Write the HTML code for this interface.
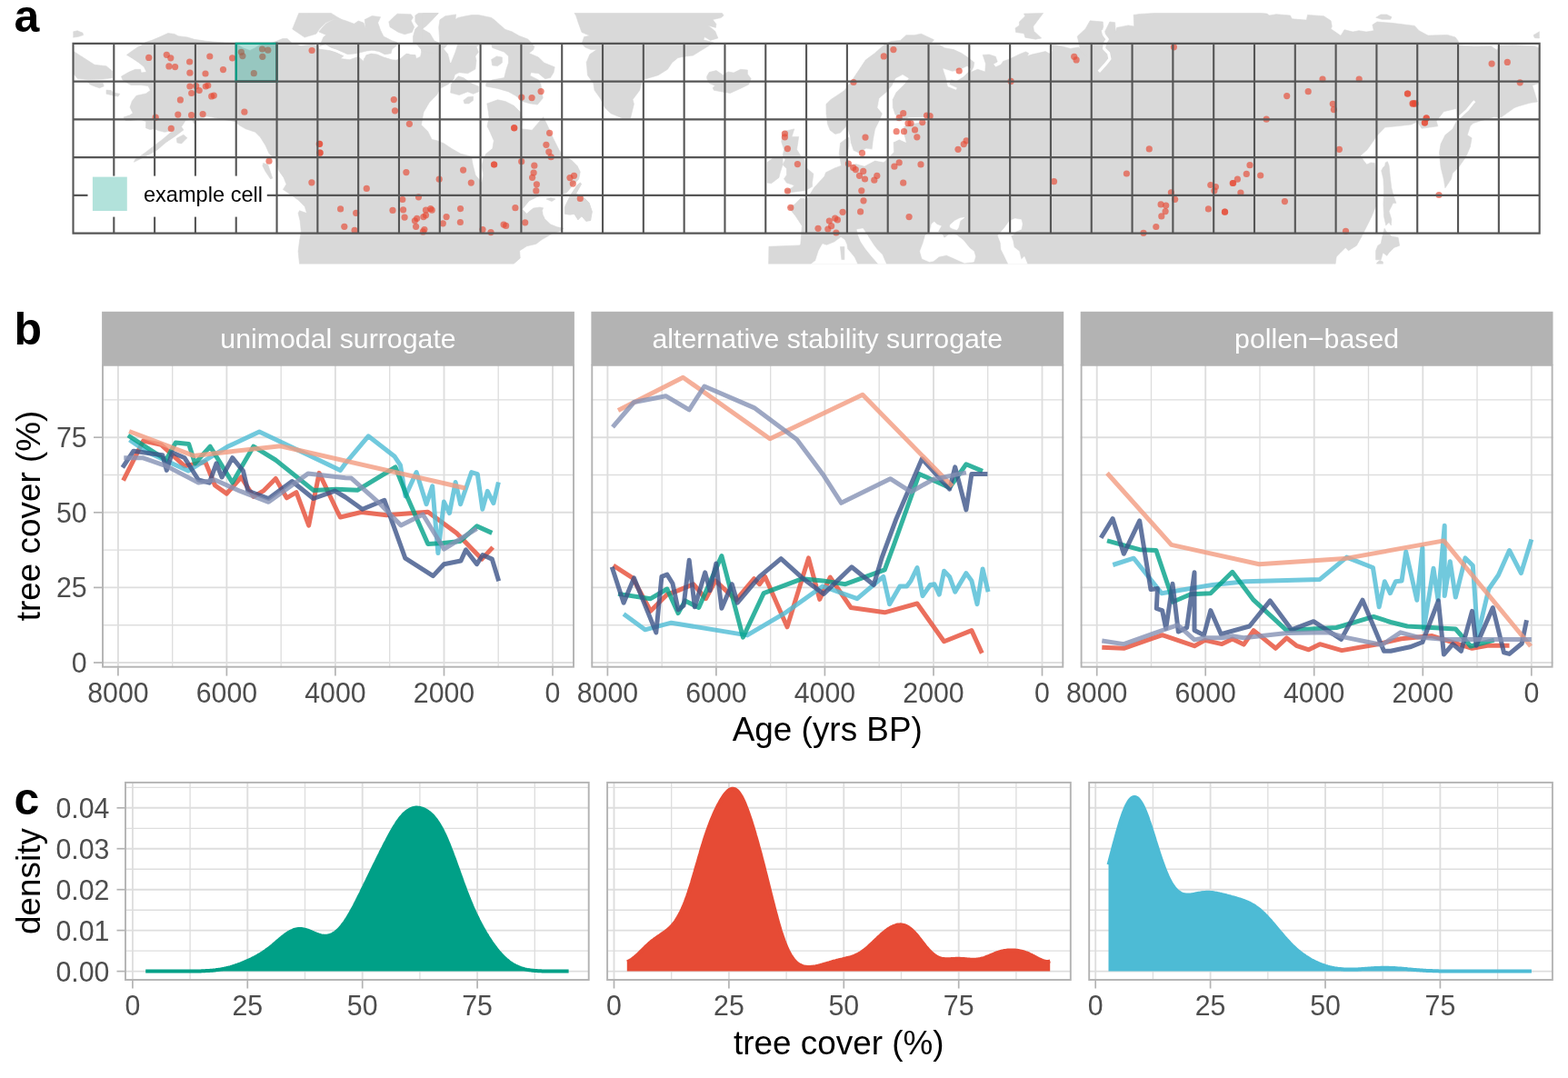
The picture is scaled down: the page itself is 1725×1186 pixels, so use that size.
<!DOCTYPE html>
<html><head><meta charset="utf-8"><title>Figure</title><style>
body{margin:0;padding:0;background:#fff;}
svg{display:block;}
text{font-family:"Liberation Sans",Arial,Helvetica,sans-serif;}
.ax{font-size:30.3px;fill:#4D4D4D;}
.st{font-size:30.3px;fill:#FFFFFF;}
.ti{font-size:36.9px;fill:#000000;}
.lb{font-size:50px;font-weight:bold;fill:#000000;}
.lg{font-size:23.6px;fill:#000000;}
</style></head>
<body><svg xmlns="http://www.w3.org/2000/svg" width="1725" height="1186" viewBox="0 0 1725 1186">
<rect x="0" y="0" width="1725" height="1186" fill="#FFFFFF"/>
<defs><clipPath id="mapclip"><rect x="80.5" y="14" width="1613.2" height="276.5"/></clipPath></defs>
<g clip-path="url(#mapclip)">
<g fill="#D9D9D9" stroke="#D9D9D9" stroke-width="0.6" stroke-linejoin="round">
<polygon points="79.8,35.0 85.1,33.8 91.0,36.2 91.6,38.6 86.3,40.3 79.8,41.3" fill="#D9D9D9"/>
<polygon points="80.5,56.5 81.7,56.9 104.0,71.3 117.0,72.7 123.5,78.2 123.5,85.7 113.3,87.1 96.6,87.5 85.4,86.6 81.7,81.9 80.5,81.9" fill="#D9D9D9"/>
<polygon points="96.6,90.3 113.3,91.2 114.2,94.9 109.5,96.8 104.0,94.9 99.3,93.1" fill="#D9D9D9"/>
<polygon points="117.0,99.1 122.5,99.6 124.4,101.9 131.8,103.3 130.0,106.1 124.4,105.1 117.0,103.3" fill="#D9D9D9"/>
<polygon points="139.4,60.4 144.1,56.9 151.2,52.1 155.9,49.8 159.5,46.8 167.7,44.1 176.0,40.6 184.8,36.6 191.9,37.4 196.1,39.7 206.1,40.9 213.8,43.3 226.8,45.3 243.3,46.8 255.0,47.5 262.0,49.5 268.0,53.0 275.0,55.5 280.0,53.0 285.0,50.0 292.0,48.3 300.0,47.0 311.0,42.5 316.0,42.5 321.0,47.3 330.6,50.6 343.6,49.0 350.1,50.6 351.3,54.1 364.1,55.8 369.9,57.5 378.0,61.6 374.5,64.5 384.9,65.7 394.2,62.2 400.0,67.4 401.2,61.0 408.1,58.7 415.1,59.9 422.0,62.8 431.3,65.7 435.9,66.2 440.6,64.5 444.6,61.0 447.5,58.7 456.8,59.9 458.0,64.5 462.6,62.2 463.8,56.4 464.9,50.0 470.0,46.0 477.0,45.0 484.6,48.0 530.0,48.0 524.0,51.3 526.4,57.2 522.9,61.9 524.0,66.7 522.9,76.1 514.6,80.8 505.1,79.7 500.4,82.0 499.2,86.7 493.3,92.6 483.9,97.4 480.8,104.0 472.5,112.4 466.0,123.5 465.0,128.7 463.5,137.4 470.8,144.7 475.1,153.4 480.9,154.8 488.2,157.7 496.9,163.5 507.0,169.3 518.6,172.2 520.1,180.9 523.0,192.5 530.2,201.2 531.7,192.5 530.2,182.4 531.7,175.1 534.6,169.3 541.8,163.5 543.3,154.8 538.9,144.7 536.0,138.9 538.0,128.7 537.4,123.5 535.8,113.9 547.6,109.8 555.9,111.5 565.4,116.3 572.4,123.3 574.8,130.4 573.7,141.8 585.3,143.2 597.7,128.7 602.7,138.9 608.5,151.9 614.3,163.5 618.9,171.3 628.6,176.1 635.1,182.6 638.3,189.1 636.7,197.2 630.2,203.6 623.7,211.7 617.2,213.4 610.0,214.0 600.0,215.5 590.0,217.0 582.4,221.5 575.2,230.2 579.5,234.6 586.8,229.0 594.0,228.0 598.0,229.0 597.0,236.0 600.0,241.0 606.0,246.0 612.9,249.1 620.0,251.0 617.2,253.8 607.5,257.1 596.2,263.6 589.7,268.4 579.5,270.8 571.6,275.9 572.3,283.9 565.0,290.5 329.5,290.5 328.1,276.6 329.5,265.0 331.3,254.9 330.2,243.3 328.1,234.6 329.5,231.7 337.5,234.6 335.3,227.3 328.1,220.1 317.9,212.8 311.4,208.5 315.0,202.7 312.1,195.4 307.0,188.2 304.9,180.9 303.4,175.1 300.4,173.1 295.8,168.5 292.3,160.4 286.5,151.1 280.7,145.3 270.3,141.8 263.3,137.8 258.6,133.7 245.9,131.4 234.3,129.1 227.4,127.9 218.1,132.5 215.2,131.4 213.5,136.0 211.2,131.4 204.2,132.5 199.6,139.5 201.9,143.0 192.6,149.9 182.2,156.9 172.9,165.0 164.8,169.6 153.2,175.4 147.4,178.3 148.6,175.4 159.0,168.5 169.4,160.4 178.7,153.4 185.7,147.6 190.3,143.6 181.0,145.3 174.1,143.6 170.0,141.8 164.8,142.4 160.4,140.7 160.7,133.7 154.7,131.2 144.1,132.4 137.0,129.5 142.3,127.1 146.2,124.4 143.0,118.0 145.3,111.2 150.0,105.3 160.6,102.9 165.4,99.4 163.0,94.6 154.7,93.5 144.1,93.5 139.4,91.1 134.7,87.6 133.5,84.0 141.8,79.3 148.8,76.3 154.7,76.3 155.3,79.9 161.2,79.3 158.3,73.4 152.4,68.7 145.3,63.9" fill="#D9D9D9"/>
<polygon points="194.3,152.2 201.9,148.2 205.9,151.7 199.6,158.0 194.9,156.9" fill="#D9D9D9"/>
<polygon points="135.8,129.1 141.6,127.3 146.2,129.1 143.9,132.5 138.1,132.5" fill="#D9D9D9"/>
<polygon points="289.6,179.5 294.7,180.9 297.6,189.6 299.8,196.1 297.6,196.9 291.8,188.2 288.9,182.4" fill="#D9D9D9"/>
<polygon points="638.3,201.2 639.6,202.3 633.4,213.4 641.5,216.6 648.0,223.1 651.3,232.8 649.6,242.5 644.8,243.3 639.9,237.7 635.9,241.7 631.8,235.2 627.0,236.1 621.3,235.2 621.3,227.9 625.3,219.8 628.6,213.4 635.1,203.6" fill="#D9D9D9"/>
<polygon points="601.0,219.0 606.0,217.4 611.0,219.0 607.0,221.5" fill="#D9D9D9"/>
<polygon points="328.7,14.6 364.1,14.4 371.0,18.7 376.2,21.6 366.4,21.6 358.3,25.1 351.3,32.0 347.8,37.2 335.1,41.1 321.7,32.0" fill="#D9D9D9"/>
<polygon points="350.7,34.9 358.3,26.2 367.0,21.6 376.2,21.6 380.3,22.8 389.6,26.2 394.2,23.0 400.0,25.1 402.3,31.4 401.2,21.6 409.3,17.5 418.6,18.7 415.7,25.1 418.6,33.2 422.0,40.1 431.3,44.8 436.5,46.5 436.5,48.3 435.9,50.6 431.3,54.1 430.1,58.7 422.0,60.2 416.2,57.7 411.6,55.4 403.5,56.0 396.5,57.7 391.9,58.9 379.1,60.0 375.7,57.7 369.9,54.8 364.1,53.1 358.3,49.0 351.3,51.3 355.9,40.7 358.8,38.4" fill="#D9D9D9"/>
<polygon points="427.8,23.9 431.3,20.4 437.1,15.2 452.2,15.8 454.5,19.3 452.2,22.8 455.7,29.7 453.3,35.5 445.2,37.8 438.3,35.5 429.0,29.7" fill="#D9D9D9"/>
<polygon points="456.8,17.0 460.3,14.6 482.3,14.6 474.2,21.6 467.2,27.4 464.9,32.0 473.0,36.7 477.7,44.8 484.6,48.3 484.6,60.0 463.8,56.4 454.5,47.1 454.5,40.1 456.8,32.0 460.3,28.6 456.8,23.9" fill="#D9D9D9"/>
<polygon points="465.0,14.7 482.1,14.7 475.6,21.8 468.5,28.9 465.0,31.3" fill="#D9D9D9"/>
<polygon points="465.0,33.6 473.3,41.9 476.8,48.0 465.0,48.0" fill="#D9D9D9"/>
<polygon points="482.7,30.1 483.9,21.8 489.8,17.7 501.6,15.9 501.0,21.2 504.0,19.4 518.7,16.5 526.4,16.5 540.6,19.4 545.3,23.0 547.6,25.3 555.9,32.4 563.0,34.8 571.3,39.5 580.7,43.1 583.1,45.4 587.8,51.3 586.6,54.9 581.9,58.4 592.5,63.1 598.4,69.0 610.2,73.8 609.0,79.7 605.5,85.6 599.6,86.7 592.5,80.8 584.2,79.7 583.1,83.2 592.5,87.9 594.9,92.6 597.2,108.0 591.3,115.1 583.1,113.9 574.8,111.5 567.7,105.6 559.5,100.9 547.6,97.4 534.7,95.0 534.7,91.5 541.7,87.9 554.7,85.6 557.1,76.1 559.5,69.0 559.5,61.9 554.7,57.2 541.7,52.5 540.6,49.0 524.0,49.0 514.6,49.0 502.8,49.0 492.2,49.0 483.9,49.0" fill="#D9D9D9"/>
<polygon points="632.0,14.5 794.3,14.5 796.2,17.0 793.0,19.6 784.1,21.5 787.9,26.6 787.3,30.4 779.0,27.9 786.7,34.2 789.9,41.9 781.6,44.4 775.2,40.6 773.9,43.8 785.4,47.0 779.0,50.8 762.4,61.0 752.2,62.3 745.9,63.6 739.5,68.7 734.4,76.3 724.2,82.7 711.4,86.5 706.3,87.8 703.8,99.3 696.1,109.5 697.4,114.6 693.6,129.9 684.6,129.9 671.9,124.8 665.5,118.4 660.4,108.2 654.0,99.3 652.8,91.6 646.4,82.7 645.7,73.8 645.1,68.7 648.9,59.7 656.6,54.6 650.2,54.6 643.8,52.1 640.0,48.3 642.6,40.6 648.9,39.3 640.0,35.5 636.1,24.7 633.7,17.3" fill="#D9D9D9"/>
<polygon points="777.7,84.0 780.2,79.5 787.9,77.6 795.6,82.7 800.7,78.9 807.1,80.1 814.7,76.3 822.4,77.0 822.4,81.4 826.2,86.5 823.7,92.9 816.0,96.7 803.3,102.5 795.6,101.2 785.4,99.3 784.1,96.7 786.7,94.2 780.2,91.6 777.7,86.5" fill="#D9D9D9"/>
<polygon points="918.9,147.5 913.2,143.3 910.4,136.3 909.0,125.0 908.9,114.6 914.0,109.5 922.9,103.7 929.3,99.3 936.9,89.1 944.6,77.6 952.2,66.1 962.4,58.5 973.9,48.3 980.3,45.5 990.6,44.4 996.9,38.7 1005.8,38.7 1013.4,37.2 1027.5,43.8 1023.6,48.3 1033.9,49.5 1039.0,52.7 1049.2,54.6 1057.7,58.5 1065.3,63.6 1071.7,68.7 1071.0,73.8 1067.9,79.5 1075.5,76.3 1083.8,78.9 1084.4,69.9 1081.2,60.4 1088.3,60.0 1095.3,62.3 1097.2,68.0 1092.7,70.6 1095.3,73.8 1101.0,71.2 1103.6,67.4 1111.2,64.8 1121.4,59.7 1128.4,56.9 1131.6,58.5 1130.3,61.7 1134.8,60.1 1150.1,56.6 1154.6,59.1 1157.8,55.9 1156.5,48.9 1164.8,50.2 1177.5,53.4 1186.5,52.1 1194.1,59.1 1195.4,61.7 1189.0,57.2 1187.1,48.3 1185.2,40.0 1194.1,31.7 1199.2,22.8 1213.2,24.0 1213.8,29.1 1211.9,35.5 1213.8,35.5 1215.8,34.2 1220.9,24.0 1226.6,24.7 1227.3,35.5 1228.5,30.4 1241.3,27.9 1247.7,29.1 1247.1,16.4 1254.1,15.4 1270.0,14.5 1387.5,14.5 1393.9,15.1 1396.5,17.0 1404.1,15.7 1419.4,17.0 1421.3,20.8 1437.3,22.1 1438.5,16.4 1456.4,17.7 1464.1,22.8 1465.3,29.1 1464.1,31.7 1475.0,39.3 1479.0,32.7 1488.3,35.1 1495.0,33.7 1503.0,35.1 1511.3,33.7 1509.9,27.3 1515.0,24.0 1531.0,25.3 1556.3,28.4 1561.0,33.7 1571.0,39.1 1592.3,38.4 1601.0,40.9 1604.1,44.9 1605.0,50.0 1621.7,51.1 1640.3,50.7 1647.0,55.3 1649.7,50.0 1665.7,49.7 1688.3,50.7 1693.7,53.3 1693.7,91.3 1685.7,94.0 1688.3,102.0 1691.3,112.0 1683.0,113.3 1671.0,116.7 1666.0,118.6 1651.4,129.1 1643.3,128.8 1630.4,132.4 1620.7,135.6 1617.4,138.8 1614.2,148.6 1619.1,151.8 1617.4,161.5 1612.6,172.8 1604.5,184.2 1598.0,190.6 1596.4,197.1 1589.9,206.8 1588.3,197.1 1585.1,184.2 1583.4,168.0 1585.1,158.3 1589.9,148.6 1598.0,142.1 1602.9,132.4 1602.1,119.4 1588.3,122.7 1580.2,133.2 1581.8,138.8 1564.0,141.3 1559.2,133.7 1552.7,136.9 1539.7,138.5 1523.6,140.1 1515.5,148.6 1504.1,164.7 1496.9,171.1 1500.2,176.7 1503.6,181.1 1508.0,178.9 1512.5,179.5 1514.1,193.4 1513.6,226.8 1509.1,237.9 1503.6,249.0 1498.0,260.2 1492.4,270.2 1483.5,275.8 1480.2,272.4 1474.6,278.0 1470.2,282.4 1469.1,290.5 845.6,290.5 845.9,271.3 879.4,269.9 880.8,268.8 882.3,248.4 875.2,237.7 867.6,228.2 866.1,228.2 874.1,225.0 880.8,218.2 888.0,219.1 895.5,206.5 907.0,194.0 908.5,189.8 918.3,184.9 925.5,182.3 923.2,168.9 924.5,157.4 930.1,153.2 934.9,150.6 930.8,139.1 924.5,146.1" fill="#D9D9D9"/>
</g><g fill="#FFFFFF" stroke="#FFFFFF" stroke-width="0.6" stroke-linejoin="round">
<polygon points="492.7,49.6 502.8,49.6 500.4,57.2 495.7,69.0 493.3,59.6 488.6,53.7" fill="#FFFFFF"/>
<polygon points="575.2,230.2 582.4,221.5 594.0,216.4 617.0,214.5 621.0,220.0 621.3,235.2 620.0,250.5 612.9,249.1 605.6,246.2 599.8,240.4 596.9,231.7 599.8,225.9 594.0,225.9 586.8,227.3 579.5,234.6" fill="#FFFFFF"/>
<polygon points="931.5,139.0 934.1,148.9 935.8,157.4 938.6,165.8 944.9,168.7 952.7,163.7 959.7,164.4 961.1,153.2 963.2,141.9 967.5,133.5 971.0,125.0 965.6,118.4 967.5,108.2 975.2,101.8 981.6,94.2 985.4,86.5 993.0,82.4 999.4,86.3 994.3,92.9 985.4,101.8 981.6,109.5 981.8,118.4 984.1,125.4 987.9,129.9 990.7,133.0 999.7,129.6 1023.1,129.2 1024.2,132.2 1009.0,134.9 999.2,136.3 993.8,139.6 993.8,146.1 996.5,156.4 989.3,153.2 982.5,156.4 983.0,167.4 972.3,178.2 962.5,176.4 951.1,182.5 941.7,179.9 936.3,181.6 933.1,178.2 932.3,173.2 934.5,160.6 934.9,150.6 930.8,139.1" fill="#FFFFFF"/>
<polygon points="1037.7,75.7 1047.9,78.9 1058.0,76.0 1064.0,73.0 1068.0,76.0 1060.0,84.0 1052.0,89.0 1046.0,87.0 1044.0,93.0 1052.4,96.7 1051.7,98.5 1043.0,95.0 1041.0,86.0" fill="#FFFFFF"/>
<polygon points="1023.2,254.5 1024.9,246.4 1027.8,244.1 1030.7,247.0 1035.4,248.7 1031.9,254.5 1036.5,258.0 1038.8,262.0 1043.5,258.6 1049.3,258.0 1052.8,259.1 1059.7,264.3 1066.7,273.0 1071.3,276.5 1073.0,282.3 1071.3,288.1 1060.9,289.3 1048.1,283.5 1041.2,280.6 1033.0,282.3 1027.2,287.0 1022.6,288.1 1014.5,284.6 1012.2,276.5 1015.7,267.2 1018.0,259.1" fill="#FFFFFF"/>
<polygon points="1045.2,247.5 1050.4,242.9 1056.2,240.0 1060.9,239.4 1056.2,242.9 1054.5,249.9 1052.8,252.8 1048.1,251.6 1045.2,249.9" fill="#FFFFFF"/>
<polygon points="1097.8,259.1 1104.9,251.0 1108.3,246.4 1110.7,242.9 1116.5,240.6 1123.5,241.7 1124.6,246.4 1123.5,252.2 1117.7,254.5 1115.4,258.0 1111.9,259.1 1114.2,264.9 1115.4,271.9 1121.2,276.5 1122.3,281.2 1123.5,285.8 1126.9,282.3 1130.4,291.0 1109.6,291.0 1104.9,281.2 1101.4,274.2 1100.9,267.2" fill="#FFFFFF"/>
<polygon points="975.2,291.0 972.8,285.8 970.4,280.0 964.6,274.2 960.7,269.1 954.1,258.8 949.4,251.5 942.8,252.5 944.2,258.8 947.0,265.8 952.7,274.3 959.4,282.5 966.8,291.0" fill="#FFFFFF"/>
<polygon points="891.8,291.0 897.3,286.7 900.8,275.8 904.9,268.4 909.4,269.9 917.9,266.5 925.1,261.2 929.0,263.7 931.3,268.7 932.1,273.7 939.7,282.9 943.4,291.0" fill="#FFFFFF"/>
<polyline points="440.5,57.0 446.0,56.5 452.0,58.5 458.0,59.0 462.0,55.0 458.0,50.5 455.0,49.5" fill="none" stroke="#FFFFFF" stroke-width="2.5"/>
<polyline points="351.0,52.5 358.0,50.5 364.0,54.0 370.0,56.0 378.0,59.5 383.0,62.0 394.0,60.5 400.0,63.0 402.0,59.0 409.0,57.0 416.0,58.0 422.0,61.0 431.0,63.5 436.0,63.5 440.0,61.0 444.0,58.5 447.0,57.0 457.0,58.0 460.0,60.0" fill="none" stroke="#FFFFFF" stroke-width="2.6"/>
<polyline points="1213.2,33.0 1214.5,38.1 1218.3,43.2 1215.8,47.0 1214.5,53.4 1219.6,58.5 1220.9,64.8 1215.8,71.2 1208.8,78.9" fill="none" stroke="#FFFFFF" stroke-width="3.2"/>
<polyline points="1604.5,129.9 1614.2,121.0 1620.7,112.9 1622.3,111.3" fill="none" stroke="#FFFFFF" stroke-width="2.8"/>
</g><g fill="#D9D9D9" stroke="#D9D9D9" stroke-width="0.6" stroke-linejoin="round">
<polygon points="496.3,92.6 504.0,83.8 509.9,85.6 518.1,91.5 526.4,95.0 526.4,100.9 520.5,103.3 514.6,100.9 505.1,104.5 500.4,103.3 495.7,102.1" fill="#D9D9D9"/>
<polygon points="509.9,110.4 514.6,106.8 520.5,106.2 520.5,110.4 515.8,113.9 511.0,113.9" fill="#D9D9D9"/>
<polygon points="540.6,65.5 546.5,61.9 552.4,63.1 552.4,69.0 547.6,72.6 541.7,72.0" fill="#D9D9D9"/>
<polygon points="601.0,219.0 606.0,217.4 611.0,219.0 607.0,221.5" fill="#D9D9D9"/>
<polygon points="638.3,201.2 639.6,202.3 633.4,213.4 641.5,216.6 648.0,223.1 651.3,232.8 649.6,242.5 644.8,243.3 639.9,237.7 635.9,241.7 631.8,235.2 627.0,236.1 621.3,235.2 621.3,227.9 625.3,219.8 628.6,213.4 635.1,203.6" fill="#D9D9D9"/>
<polygon points="861.1,144.7 873.8,141.9 871.0,150.4 878.7,150.4 876.6,164.4 880.8,171.5 885.1,175.7 886.5,184.2 894.9,191.2 893.5,201.1 893.5,205.3 886.5,209.5 875.2,210.9 865.4,212.3 863.9,209.5 871.0,206.7 873.8,203.9 865.4,201.1 862.5,196.8 865.4,192.6 865.4,185.6 861.1,181.3 863.9,175.7 861.1,171.5 862.5,164.4 859.7,156.0" fill="#D9D9D9"/>
<polygon points="844.2,178.5 849.9,174.3 861.1,172.9 861.1,181.3 858.3,189.8 856.9,195.4 848.5,201.8 844.2,201.1" fill="#D9D9D9"/>
<polygon points="1126.5,15.1 1147.6,14.5 1136.7,29.1 1137.4,34.2 1145.7,41.9 1139.3,43.2 1127.8,41.2 1126.5,36.8 1117.6,35.5 1117.0,31.0 1121.4,27.9 1121.4,24.0 1127.8,17.7" fill="#D9D9D9"/>
<polygon points="1513.7,19.3 1519.0,16.0 1525.7,16.0 1531.0,18.7 1529.7,21.3 1520.3,21.3" fill="#D9D9D9"/>
<polygon points="1687.0,38.7 1693.7,34.7 1693.7,42.0 1688.3,41.7" fill="#D9D9D9"/>
<polygon points="1524.2,178.9 1526.4,177.8 1528.1,182.3 1529.2,193.4 1530.8,206.8 1532.5,213.4 1535.9,223.4 1532.5,223.4 1528.1,232.4 1530.8,241.3 1530.3,247.9 1528.1,244.6 1524.7,247.9 1522.5,237.9 1521.9,224.6 1522.5,210.1 1521.9,196.7 1519.7,187.8 1521.4,184.5 1523.6,182.3" fill="#D9D9D9"/>
<polygon points="1523.1,251.3 1525.8,255.7 1531.4,260.2 1538.1,261.3 1539.7,270.2 1533.6,272.4 1528.1,278.0 1525.8,281.3 1521.4,278.0 1519.2,285.8 1513.6,285.8 1513.6,275.8 1515.8,270.2 1519.2,268.0 1520.8,260.2" fill="#D9D9D9"/>
<polygon points="1514.7,289.1 1518.0,286.4 1521.4,288.0 1521.4,290.5 1514.7,290.5" fill="#D9D9D9"/>
<polygon points="924.4,271.5 928.9,271.5 928.9,285.6 925.9,285.6" fill="#D9D9D9"/>
</g></g>
<g fill="#E64B35" fill-opacity="0.66">
<circle cx="163.7" cy="63.4" r="3.6"/>
<circle cx="183.3" cy="60.3" r="3.6"/>
<circle cx="187.8" cy="63.8" r="3.6"/>
<circle cx="208.6" cy="68.0" r="3.6"/>
<circle cx="230.8" cy="62.0" r="3.6"/>
<circle cx="255.6" cy="63.8" r="3.6"/>
<circle cx="265.4" cy="57.3" r="3.6"/>
<circle cx="266.9" cy="61.6" r="3.6"/>
<circle cx="288.5" cy="54.0" r="3.6"/>
<circle cx="294.8" cy="55.2" r="3.6"/>
<circle cx="288.8" cy="62.3" r="3.6"/>
<circle cx="343.1" cy="55.5" r="3.6"/>
<circle cx="185.9" cy="72.9" r="3.6"/>
<circle cx="192.6" cy="73.6" r="3.6"/>
<circle cx="208.9" cy="80.2" r="3.6"/>
<circle cx="226.0" cy="81.0" r="3.6"/>
<circle cx="245.5" cy="76.6" r="3.6"/>
<circle cx="279.3" cy="80.7" r="3.6"/>
<circle cx="208.9" cy="95.0" r="3.6"/>
<circle cx="215.7" cy="94.6" r="3.6"/>
<circle cx="219.2" cy="99.5" r="3.6"/>
<circle cx="226.3" cy="95.0" r="3.6"/>
<circle cx="228.8" cy="94.0" r="3.6"/>
<circle cx="210.7" cy="102.5" r="3.6"/>
<circle cx="232.7" cy="105.9" r="3.6"/>
<circle cx="235.3" cy="105.1" r="3.6"/>
<circle cx="198.4" cy="109.9" r="3.6"/>
<circle cx="268.9" cy="123.2" r="3.6"/>
<circle cx="171.2" cy="129.2" r="3.6"/>
<circle cx="195.8" cy="126.1" r="3.6"/>
<circle cx="210.6" cy="126.7" r="3.6"/>
<circle cx="223.1" cy="125.5" r="3.6"/>
<circle cx="188.3" cy="141.4" r="3.6"/>
<circle cx="351.7" cy="158.3" r="3.6"/>
<circle cx="352.1" cy="168.1" r="3.6"/>
<circle cx="296.0" cy="177.2" r="3.6"/>
<circle cx="434.5" cy="121.8" r="3.6"/>
<circle cx="450.4" cy="136.3" r="3.6"/>
<circle cx="565.7" cy="140.8" r="3.6"/>
<circle cx="351.3" cy="158.4" r="3.6"/>
<circle cx="352.0" cy="168.2" r="3.6"/>
<circle cx="543.5" cy="181.0" r="3.6"/>
<circle cx="573.7" cy="177.7" r="3.6"/>
<circle cx="446.9" cy="189.6" r="3.6"/>
<circle cx="509.6" cy="187.1" r="3.6"/>
<circle cx="483.2" cy="197.2" r="3.6"/>
<circle cx="518.3" cy="201.1" r="3.6"/>
<circle cx="342.9" cy="200.8" r="3.6"/>
<circle cx="403.3" cy="207.4" r="3.6"/>
<circle cx="442.8" cy="219.5" r="3.6"/>
<circle cx="460.5" cy="216.8" r="3.6"/>
<circle cx="374.6" cy="229.9" r="3.6"/>
<circle cx="391.7" cy="234.4" r="3.6"/>
<circle cx="432.0" cy="231.4" r="3.6"/>
<circle cx="443.6" cy="230.8" r="3.6"/>
<circle cx="468.5" cy="231.2" r="3.6"/>
<circle cx="473.7" cy="229.7" r="3.6"/>
<circle cx="475.2" cy="231.2" r="3.6"/>
<circle cx="506.6" cy="229.6" r="3.6"/>
<circle cx="566.9" cy="228.7" r="3.6"/>
<circle cx="445.1" cy="239.1" r="3.6"/>
<circle cx="456.4" cy="242.8" r="3.6"/>
<circle cx="458.7" cy="240.3" r="3.6"/>
<circle cx="465.9" cy="238.6" r="3.6"/>
<circle cx="468.5" cy="236.8" r="3.6"/>
<circle cx="491.1" cy="238.6" r="3.6"/>
<circle cx="378.8" cy="249.3" r="3.6"/>
<circle cx="487.3" cy="245.8" r="3.6"/>
<circle cx="506.4" cy="244.5" r="3.6"/>
<circle cx="554.1" cy="247.1" r="3.6"/>
<circle cx="556.6" cy="248.4" r="3.6"/>
<circle cx="577.7" cy="244.8" r="3.6"/>
<circle cx="457.6" cy="249.3" r="3.6"/>
<circle cx="466.9" cy="252.6" r="3.6"/>
<circle cx="465.4" cy="254.9" r="3.6"/>
<circle cx="390.1" cy="253.4" r="3.6"/>
<circle cx="531.0" cy="252.6" r="3.6"/>
<circle cx="540.0" cy="255.6" r="3.6"/>
<circle cx="595.1" cy="100.6" r="3.6"/>
<circle cx="573.8" cy="107.1" r="3.6"/>
<circle cx="585.1" cy="107.6" r="3.6"/>
<circle cx="565.7" cy="140.7" r="3.6"/>
<circle cx="604.6" cy="146.3" r="3.6"/>
<circle cx="600.9" cy="159.3" r="3.6"/>
<circle cx="603.8" cy="167.1" r="3.6"/>
<circle cx="606.2" cy="172.7" r="3.6"/>
<circle cx="543.7" cy="181.0" r="3.6"/>
<circle cx="587.8" cy="182.2" r="3.6"/>
<circle cx="587.1" cy="190.0" r="3.6"/>
<circle cx="585.6" cy="195.3" r="3.6"/>
<circle cx="590.4" cy="202.8" r="3.6"/>
<circle cx="589.8" cy="209.9" r="3.6"/>
<circle cx="627.0" cy="195.6" r="3.6"/>
<circle cx="631.5" cy="193.3" r="3.6"/>
<circle cx="630.3" cy="202.1" r="3.6"/>
<circle cx="638.3" cy="218.4" r="3.6"/>
<circle cx="433.3" cy="109.6" r="3.6"/>
<circle cx="982.9" cy="54.6" r="3.6"/>
<circle cx="972.3" cy="61.9" r="3.6"/>
<circle cx="939.0" cy="90.5" r="3.6"/>
<circle cx="1055.2" cy="78.0" r="3.6"/>
<circle cx="993.7" cy="124.7" r="3.6"/>
<circle cx="989.2" cy="129.7" r="3.6"/>
<circle cx="1019.4" cy="127.1" r="3.6"/>
<circle cx="1023.1" cy="127.7" r="3.6"/>
<circle cx="999.0" cy="135.7" r="3.6"/>
<circle cx="1002.0" cy="135.7" r="3.6"/>
<circle cx="1014.8" cy="134.6" r="3.6"/>
<circle cx="1006.5" cy="142.9" r="3.6"/>
<circle cx="986.2" cy="144.7" r="3.6"/>
<circle cx="994.5" cy="144.7" r="3.6"/>
<circle cx="1008.8" cy="150.8" r="3.6"/>
<circle cx="863.4" cy="147.0" r="3.6"/>
<circle cx="863.4" cy="150.8" r="3.6"/>
<circle cx="866.4" cy="163.6" r="3.6"/>
<circle cx="952.0" cy="151.1" r="3.6"/>
<circle cx="948.5" cy="168.4" r="3.6"/>
<circle cx="1063.1" cy="154.8" r="3.6"/>
<circle cx="1060.3" cy="158.6" r="3.6"/>
<circle cx="1054.0" cy="164.3" r="3.6"/>
<circle cx="877.4" cy="180.6" r="3.6"/>
<circle cx="866.4" cy="210.0" r="3.6"/>
<circle cx="869.8" cy="228.4" r="3.6"/>
<circle cx="933.4" cy="180.1" r="3.6"/>
<circle cx="938.7" cy="184.4" r="3.6"/>
<circle cx="941.3" cy="186.6" r="3.6"/>
<circle cx="949.7" cy="188.4" r="3.6"/>
<circle cx="945.5" cy="193.3" r="3.6"/>
<circle cx="951.5" cy="197.0" r="3.6"/>
<circle cx="964.8" cy="193.3" r="3.6"/>
<circle cx="961.8" cy="198.2" r="3.6"/>
<circle cx="947.8" cy="209.8" r="3.6"/>
<circle cx="950.0" cy="220.8" r="3.6"/>
<circle cx="946.6" cy="232.9" r="3.6"/>
<circle cx="927.1" cy="233.3" r="3.6"/>
<circle cx="918.7" cy="240.1" r="3.6"/>
<circle cx="921.4" cy="241.9" r="3.6"/>
<circle cx="912.3" cy="243.0" r="3.6"/>
<circle cx="914.6" cy="248.7" r="3.6"/>
<circle cx="910.8" cy="252.0" r="3.6"/>
<circle cx="900.0" cy="251.3" r="3.6"/>
<circle cx="919.9" cy="256.0" r="3.6"/>
<circle cx="989.2" cy="178.9" r="3.6"/>
<circle cx="983.9" cy="183.2" r="3.6"/>
<circle cx="1013.0" cy="180.9" r="3.6"/>
<circle cx="993.7" cy="201.2" r="3.6"/>
<circle cx="1000.1" cy="238.6" r="3.6"/>
<circle cx="1181.7" cy="62.3" r="3.6"/>
<circle cx="1184.1" cy="65.9" r="3.6"/>
<circle cx="1112.1" cy="89.4" r="3.6"/>
<circle cx="1291.4" cy="51.8" r="3.6"/>
<circle cx="1264.3" cy="163.9" r="3.6"/>
<circle cx="1159.5" cy="199.7" r="3.6"/>
<circle cx="1239.4" cy="191.0" r="3.6"/>
<circle cx="1288.4" cy="211.8" r="3.6"/>
<circle cx="1292.6" cy="219.3" r="3.6"/>
<circle cx="1277.1" cy="224.9" r="3.6"/>
<circle cx="1282.7" cy="226.1" r="3.6"/>
<circle cx="1282.1" cy="232.6" r="3.6"/>
<circle cx="1277.8" cy="237.9" r="3.6"/>
<circle cx="1271.8" cy="249.5" r="3.6"/>
<circle cx="1258.0" cy="256.3" r="3.6"/>
<circle cx="1331.8" cy="203.5" r="3.6"/>
<circle cx="1337.4" cy="205.5" r="3.6"/>
<circle cx="1335.9" cy="209.8" r="3.6"/>
<circle cx="1356.2" cy="201.5" r="3.6"/>
<circle cx="1329.4" cy="229.9" r="3.6"/>
<circle cx="1347.5" cy="233.2" r="3.6"/>
<circle cx="1455.0" cy="87.0" r="3.6"/>
<circle cx="1495.2" cy="87.0" r="3.6"/>
<circle cx="1415.7" cy="105.6" r="3.6"/>
<circle cx="1439.2" cy="100.7" r="3.6"/>
<circle cx="1466.3" cy="114.3" r="3.6"/>
<circle cx="1467.4" cy="120.6" r="3.6"/>
<circle cx="1393.2" cy="131.2" r="3.6"/>
<circle cx="1548.4" cy="103.0" r="3.6"/>
<circle cx="1554.0" cy="113.9" r="3.6"/>
<circle cx="1557.0" cy="113.9" r="3.6"/>
<circle cx="1569.1" cy="130.1" r="3.6"/>
<circle cx="1567.3" cy="135.0" r="3.6"/>
<circle cx="1473.4" cy="164.3" r="3.6"/>
<circle cx="1375.0" cy="181.7" r="3.6"/>
<circle cx="1371.3" cy="191.4" r="3.6"/>
<circle cx="1386.7" cy="193.0" r="3.6"/>
<circle cx="1361.4" cy="197.2" r="3.6"/>
<circle cx="1356.6" cy="201.5" r="3.6"/>
<circle cx="1364.9" cy="212.1" r="3.6"/>
<circle cx="1413.4" cy="221.6" r="3.6"/>
<circle cx="1347.5" cy="233.2" r="3.6"/>
<circle cx="1480.5" cy="254.3" r="3.6"/>
<circle cx="1583.0" cy="214.5" r="3.6"/>
<circle cx="1641.1" cy="70.1" r="3.6"/>
<circle cx="1658.3" cy="68.4" r="3.6"/>
<circle cx="1672.2" cy="90.8" r="3.6"/>
<circle cx="1548.7" cy="103.2" r="3.6"/>
<circle cx="1554.5" cy="113.9" r="3.6"/>
<circle cx="1556.2" cy="113.9" r="3.6"/>
<circle cx="1569.3" cy="129.9" r="3.6"/>
<circle cx="1567.5" cy="135.1" r="3.6"/>
</g>
<path d="M80.50,46.85V257.60M125.31,46.85V257.60M170.12,46.85V257.60M214.93,46.85V257.60M259.74,46.85V257.60M304.55,46.85V257.60M349.36,46.85V257.60M394.17,46.85V257.60M438.98,46.85V257.60M483.79,46.85V257.60M528.60,46.85V257.60M573.41,46.85V257.60M618.22,46.85V257.60M663.03,46.85V257.60M707.84,46.85V257.60M752.65,46.85V257.60M797.46,46.85V257.60M842.27,46.85V257.60M887.08,46.85V257.60M931.89,46.85V257.60M976.70,46.85V257.60M1021.51,46.85V257.60M1066.32,46.85V257.60M1111.13,46.85V257.60M1155.94,46.85V257.60M1200.75,46.85V257.60M1245.56,46.85V257.60M1290.37,46.85V257.60M1335.18,46.85V257.60M1379.99,46.85V257.60M1424.80,46.85V257.60M1469.61,46.85V257.60M1514.42,46.85V257.60M1559.23,46.85V257.60M1604.04,46.85V257.60M1648.85,46.85V257.60M1693.66,46.85V257.60M79.50,47.85H1694.66M79.50,89.60H1694.66M79.50,131.35H1694.66M79.50,173.10H1694.66M79.50,214.85H1694.66M79.50,256.60H1694.66" stroke="#555555" stroke-width="2.1" fill="none"/>
<rect x="259.74" y="47.85" width="44.81" height="41.75" fill="#00A087" fill-opacity="0.3" stroke="#00A087" stroke-width="2.1"/>
<path d="M304.55,46.85V90.60M258.74,89.60H305.55" stroke="#555555" stroke-width="2.1"/>
<rect x="96.5" y="193.6" width="197.3" height="45" fill="#FFFFFF"/>
<rect x="101.9" y="194.6" width="37.9" height="37.4" fill="#00A087" fill-opacity="0.3"/>
<text x="157.9" y="221.5" class="lg">example cell</text>
<text x="15.5" y="34.5" class="lb">a</text>
<line x1="608" y1="401.8" x2="608" y2="734.6" stroke="#DEDEDE" stroke-width="1.9"/>
<line x1="548.2" y1="401.8" x2="548.2" y2="734.6" stroke="#DEDEDE" stroke-width="1.35"/>
<line x1="488.5" y1="401.8" x2="488.5" y2="734.6" stroke="#DEDEDE" stroke-width="1.9"/>
<line x1="428.7" y1="401.8" x2="428.7" y2="734.6" stroke="#DEDEDE" stroke-width="1.35"/>
<line x1="368.9" y1="401.8" x2="368.9" y2="734.6" stroke="#DEDEDE" stroke-width="1.9"/>
<line x1="309.2" y1="401.8" x2="309.2" y2="734.6" stroke="#DEDEDE" stroke-width="1.35"/>
<line x1="249.4" y1="401.8" x2="249.4" y2="734.6" stroke="#DEDEDE" stroke-width="1.9"/>
<line x1="189.7" y1="401.8" x2="189.7" y2="734.6" stroke="#DEDEDE" stroke-width="1.35"/>
<line x1="129.9" y1="401.8" x2="129.9" y2="734.6" stroke="#DEDEDE" stroke-width="1.9"/>
<line x1="112.1" y1="729" x2="631.9" y2="729" stroke="#DEDEDE" stroke-width="1.9"/>
<line x1="112.1" y1="687.7" x2="631.9" y2="687.7" stroke="#DEDEDE" stroke-width="1.35"/>
<line x1="112.1" y1="646.4" x2="631.9" y2="646.4" stroke="#DEDEDE" stroke-width="1.9"/>
<line x1="112.1" y1="605.1" x2="631.9" y2="605.1" stroke="#DEDEDE" stroke-width="1.35"/>
<line x1="112.1" y1="563.8" x2="631.9" y2="563.8" stroke="#DEDEDE" stroke-width="1.9"/>
<line x1="112.1" y1="522.5" x2="631.9" y2="522.5" stroke="#DEDEDE" stroke-width="1.35"/>
<line x1="112.1" y1="481.2" x2="631.9" y2="481.2" stroke="#DEDEDE" stroke-width="1.9"/>
<line x1="112.1" y1="439.9" x2="631.9" y2="439.9" stroke="#DEDEDE" stroke-width="1.35"/>
<g fill="none" stroke-width="5" stroke-linejoin="round" stroke-linecap="butt" stroke-opacity="0.8">
<polyline points="135.6,528.7 157.6,485.1 177.4,489.3 203.1,512.8 225.9,508.2 236.5,534 249.4,543.1 265.3,525 279,546.3 289.6,540.2 303.3,526.5 315.4,547.8 326,541.7 339.7,578.1 351.1,520.4 372,564.5 374.4,569 397.5,563.5 425.1,566.8 470.8,563.2 502.3,586.4 530.1,615.1 542.2,602.1" stroke="#E64B35"/>
<polyline points="142.5,484 161.4,497 188.5,509.5 207,518 250,491.6 285.3,474.9 374.4,517.4 380,509.8 405.2,479.8 433.9,501.9 440.5,511.8 446,545.9 458.1,519.5 469.1,554.7 475.7,534.9 481.9,608.6 488.4,552 494.5,564.6 501.1,530.5 506.6,554.7 518.7,519.5 525.3,521.7 530.8,560.2 536.3,540.4 542.9,553.6 548.4,530.5" stroke="#4DBBD5"/>
<polyline points="140.9,479 182.7,506 193.3,487 207.7,488.5 214.5,509.8 231.2,491.2 255.7,531 278.8,491.2 303.1,506 344.8,539.4 370,538.2 393.1,539.3 435,514 446.7,543.7 470.8,598.4 487.5,597.5 506,595.6 524.6,578.9 541.3,586.4" stroke="#00A087"/>
<polyline points="134.8,514.4 146.9,496.2 178.8,500.7 183.3,517.4 189.4,497.7 203.1,503.8 218.3,528 230.4,531.1 238,509.8 244.1,525 255.7,503.7 267.5,518.1 272.8,540.1 295.5,548.5 321.3,529.5 344.8,548.5 368.4,540.1 380,547 398.6,560.2 422.9,550.3 445.8,614.2 476.4,633.6 488.4,620.7 507,617 512.5,604.9 524.6,620.7 531,610.5 541.3,615.1 548.7,639.2" stroke="#3C5488"/>
<polyline points="142.1,474.5 213,501.4 308.5,490.8 512.1,537.1" stroke="#F39B7F"/>
<polyline points="136.3,503.8 157.5,503.8 183.3,512.9 218.3,531.1 236.5,528 263.8,540.2 295.5,552.3 338.8,521.1 380,525.7 386.5,526.1 418.5,554.7 441.1,578 465.2,566 488.4,604 524.6,581.7" stroke="#8491B4"/>
</g>
<rect x="113" y="401.8" width="518" height="331.9" fill="none" stroke="#B3B3B3" stroke-width="1.9"/>
<rect x="112.1" y="342.8" width="519.8" height="59" fill="#B3B3B3"/>
<line x1="608" y1="734.6" x2="608" y2="743.6" stroke="#B3B3B3" stroke-width="1.7"/>
<text transform="translate(608,772.8) scale(1,1.04)" class="ax" text-anchor="middle">0</text>
<line x1="488.5" y1="734.6" x2="488.5" y2="743.6" stroke="#B3B3B3" stroke-width="1.7"/>
<text transform="translate(488.5,772.8) scale(1,1.04)" class="ax" text-anchor="middle">2000</text>
<line x1="368.9" y1="734.6" x2="368.9" y2="743.6" stroke="#B3B3B3" stroke-width="1.7"/>
<text transform="translate(368.9,772.8) scale(1,1.04)" class="ax" text-anchor="middle">4000</text>
<line x1="249.4" y1="734.6" x2="249.4" y2="743.6" stroke="#B3B3B3" stroke-width="1.7"/>
<text transform="translate(249.4,772.8) scale(1,1.04)" class="ax" text-anchor="middle">6000</text>
<line x1="129.9" y1="734.6" x2="129.9" y2="743.6" stroke="#B3B3B3" stroke-width="1.7"/>
<text transform="translate(129.9,772.8) scale(1,1.04)" class="ax" text-anchor="middle">8000</text>
<line x1="1146.5" y1="401.8" x2="1146.5" y2="734.6" stroke="#DEDEDE" stroke-width="1.9"/>
<line x1="1086.7" y1="401.8" x2="1086.7" y2="734.6" stroke="#DEDEDE" stroke-width="1.35"/>
<line x1="1027" y1="401.8" x2="1027" y2="734.6" stroke="#DEDEDE" stroke-width="1.9"/>
<line x1="967.2" y1="401.8" x2="967.2" y2="734.6" stroke="#DEDEDE" stroke-width="1.35"/>
<line x1="907.4" y1="401.8" x2="907.4" y2="734.6" stroke="#DEDEDE" stroke-width="1.9"/>
<line x1="847.7" y1="401.8" x2="847.7" y2="734.6" stroke="#DEDEDE" stroke-width="1.35"/>
<line x1="787.9" y1="401.8" x2="787.9" y2="734.6" stroke="#DEDEDE" stroke-width="1.9"/>
<line x1="728.2" y1="401.8" x2="728.2" y2="734.6" stroke="#DEDEDE" stroke-width="1.35"/>
<line x1="668.4" y1="401.8" x2="668.4" y2="734.6" stroke="#DEDEDE" stroke-width="1.9"/>
<line x1="650.4" y1="729" x2="1170.2" y2="729" stroke="#DEDEDE" stroke-width="1.9"/>
<line x1="650.4" y1="687.7" x2="1170.2" y2="687.7" stroke="#DEDEDE" stroke-width="1.35"/>
<line x1="650.4" y1="646.4" x2="1170.2" y2="646.4" stroke="#DEDEDE" stroke-width="1.9"/>
<line x1="650.4" y1="605.1" x2="1170.2" y2="605.1" stroke="#DEDEDE" stroke-width="1.35"/>
<line x1="650.4" y1="563.8" x2="1170.2" y2="563.8" stroke="#DEDEDE" stroke-width="1.9"/>
<line x1="650.4" y1="522.5" x2="1170.2" y2="522.5" stroke="#DEDEDE" stroke-width="1.35"/>
<line x1="650.4" y1="481.2" x2="1170.2" y2="481.2" stroke="#DEDEDE" stroke-width="1.9"/>
<line x1="650.4" y1="439.9" x2="1170.2" y2="439.9" stroke="#DEDEDE" stroke-width="1.35"/>
<g fill="none" stroke-width="5" stroke-linejoin="round" stroke-linecap="butt" stroke-opacity="0.8">
<polyline points="674.7,622.2 696,635.9 715.7,672.3 733.9,654.1 746.1,649.6 762.8,642.7 776.4,658.7 787.1,638.9 809.8,660.2 829.6,636.7 835.6,642.7 841.7,634.4 866,689.8 889.5,613.9 901.7,659.4 913.3,635.1 936.1,668.5 973.3,673.8 1009,664 1038.6,705.7 1068.9,693.6 1080.3,718.6" stroke="#E64B35"/>
<polyline points="686.1,675.4 709.6,692.8 738.5,685.2 822,698.9 864.5,673.8 905,645 943,658.7 971.8,634.4 978.6,664.7 990,645 997.6,645 1002.1,638.9 1009,624.5 1015,655.6 1023.4,643.5 1028,642.7 1033.3,654.1 1038.6,628.3 1044.6,634.4 1050.7,651.1 1062.9,630.6 1068.9,638.9 1075,664.7 1081.1,626 1087.1,651.1" stroke="#4DBBD5"/>
<polyline points="680,653.4 715.7,658.7 733.9,648 746.1,674.6 753.7,660.9 768.8,668.5 793.9,611.6 817.4,701.2 840.2,652.6 882.7,636.7 905,638.9 930,642.7 973.3,626.8 983.9,598 1011.3,521.4 1044.6,536.6 1062.9,510.8 1081,518.4" stroke="#00A087"/>
<polyline points="673.2,623.8 686.1,663.2 697.5,635.9 721.8,695.9 727.9,634.4 733.9,632.1 740,642 746.1,670.8 752.1,666.3 758.2,616.2 764.3,667.8 775.7,629.8 781,649.6 787.8,620 793.9,669.3 805.3,642.7 811.3,663.2 835.6,634.4 859.2,614.6 882.7,635.9 906.2,653.4 936.9,623.8 961.2,643.5 970.3,613.1 985.5,572.1 1014.3,504.7 1044.6,538.1 1050.7,513.8 1062.9,560.9 1068.9,521.4 1086.4,521.4" stroke="#3C5488"/>
<polyline points="680,451.6 751.4,415.2 847,482.7 949,434.2 1047.7,535.1" stroke="#F39B7F"/>
<polyline points="674,469.8 697.5,442.5 732.4,435.7 758.2,450.8 774.9,425 829.6,448.6 876.6,483.5 905,521.4 925.5,553.3 979.4,526.7 1002.1,541.2 1026.4,527.5 1062.9,519.9" stroke="#8491B4"/>
</g>
<rect x="651.3" y="401.8" width="518" height="331.9" fill="none" stroke="#B3B3B3" stroke-width="1.9"/>
<rect x="650.4" y="342.8" width="519.8" height="59" fill="#B3B3B3"/>
<line x1="1146.5" y1="734.6" x2="1146.5" y2="743.6" stroke="#B3B3B3" stroke-width="1.7"/>
<text transform="translate(1146.5,772.8) scale(1,1.04)" class="ax" text-anchor="middle">0</text>
<line x1="1027" y1="734.6" x2="1027" y2="743.6" stroke="#B3B3B3" stroke-width="1.7"/>
<text transform="translate(1027,772.8) scale(1,1.04)" class="ax" text-anchor="middle">2000</text>
<line x1="907.4" y1="734.6" x2="907.4" y2="743.6" stroke="#B3B3B3" stroke-width="1.7"/>
<text transform="translate(907.4,772.8) scale(1,1.04)" class="ax" text-anchor="middle">4000</text>
<line x1="787.9" y1="734.6" x2="787.9" y2="743.6" stroke="#B3B3B3" stroke-width="1.7"/>
<text transform="translate(787.9,772.8) scale(1,1.04)" class="ax" text-anchor="middle">6000</text>
<line x1="668.4" y1="734.6" x2="668.4" y2="743.6" stroke="#B3B3B3" stroke-width="1.7"/>
<text transform="translate(668.4,772.8) scale(1,1.04)" class="ax" text-anchor="middle">8000</text>
<line x1="1684.8" y1="401.8" x2="1684.8" y2="734.6" stroke="#DEDEDE" stroke-width="1.9"/>
<line x1="1625" y1="401.8" x2="1625" y2="734.6" stroke="#DEDEDE" stroke-width="1.35"/>
<line x1="1565.3" y1="401.8" x2="1565.3" y2="734.6" stroke="#DEDEDE" stroke-width="1.9"/>
<line x1="1505.5" y1="401.8" x2="1505.5" y2="734.6" stroke="#DEDEDE" stroke-width="1.35"/>
<line x1="1445.7" y1="401.8" x2="1445.7" y2="734.6" stroke="#DEDEDE" stroke-width="1.9"/>
<line x1="1386" y1="401.8" x2="1386" y2="734.6" stroke="#DEDEDE" stroke-width="1.35"/>
<line x1="1326.2" y1="401.8" x2="1326.2" y2="734.6" stroke="#DEDEDE" stroke-width="1.9"/>
<line x1="1266.5" y1="401.8" x2="1266.5" y2="734.6" stroke="#DEDEDE" stroke-width="1.35"/>
<line x1="1206.7" y1="401.8" x2="1206.7" y2="734.6" stroke="#DEDEDE" stroke-width="1.9"/>
<line x1="1188.7" y1="729" x2="1708.5" y2="729" stroke="#DEDEDE" stroke-width="1.9"/>
<line x1="1188.7" y1="687.7" x2="1708.5" y2="687.7" stroke="#DEDEDE" stroke-width="1.35"/>
<line x1="1188.7" y1="646.4" x2="1708.5" y2="646.4" stroke="#DEDEDE" stroke-width="1.9"/>
<line x1="1188.7" y1="605.1" x2="1708.5" y2="605.1" stroke="#DEDEDE" stroke-width="1.35"/>
<line x1="1188.7" y1="563.8" x2="1708.5" y2="563.8" stroke="#DEDEDE" stroke-width="1.9"/>
<line x1="1188.7" y1="522.5" x2="1708.5" y2="522.5" stroke="#DEDEDE" stroke-width="1.35"/>
<line x1="1188.7" y1="481.2" x2="1708.5" y2="481.2" stroke="#DEDEDE" stroke-width="1.9"/>
<line x1="1188.7" y1="439.9" x2="1708.5" y2="439.9" stroke="#DEDEDE" stroke-width="1.35"/>
<g fill="none" stroke-width="5" stroke-linejoin="round" stroke-linecap="butt" stroke-opacity="0.8">
<polyline points="1212.3,712.3 1236.3,713.3 1278.6,698.7 1314,710.7 1325.5,704.4 1344.3,708.6 1355.8,702.9 1368.3,709.1 1379.1,693.6 1403.4,713.3 1415.5,701.9 1426.2,710.3 1439.8,714.8 1452,708.7 1476.2,715.6 1515.7,708.7 1541.5,702.7 1575.5,699.6 1619.5,713.3 1636.2,710.3 1660.5,710.3" stroke="#E64B35"/>
<polyline points="1224.3,621.5 1247.3,614.2 1278,652.8 1333.9,643.4 1370,639.7 1452,637.4 1481.5,613.1 1510.4,624.5 1517.2,667.8 1523.3,639.7 1529.4,652.6 1535.4,639.7 1542.1,638.9 1546.7,607 1558.8,660.2 1564.9,602.5 1566.4,692 1577,625.3 1582,660 1589.2,578.2 1589.2,655.6 1595.3,617.7 1601.3,657.1 1612,613.9 1620.3,622.2 1625.6,699.6 1637.8,648 1648.4,632.8 1660.5,605.5 1673.4,630.6 1684.8,593.4" stroke="#4DBBD5"/>
<polyline points="1218,594.9 1253.7,604.7 1271.9,605.5 1286.9,649.7 1290,662.2 1309.9,653.8 1331.8,652.8 1355.8,629.3 1379.1,660.2 1415.5,693.6 1470.2,690.5 1511.1,678.4 1530,684.5 1548.2,689 1601.3,692 1618,711 1643.8,704.2" stroke="#00A087"/>
<polyline points="1211.2,591.8 1224.1,570.6 1236.3,609.3 1253.7,572.9 1266,648.6 1273.4,647.6 1272.3,669.5 1278.6,671.6 1282.7,691.4 1290,642.3 1296.3,695 1305.7,690.4 1314,629.8 1314,693.5 1324.5,698.7 1331.8,671.6 1343.3,697.7 1374.6,689 1397.3,660.9 1420.8,692.8 1445.1,683.7 1475.5,703.4 1499,660.2 1522.5,716.3 1530,716.3 1551.2,711.8 1564.9,706.5 1582.4,660.9 1588.4,720.1 1598.3,708.7 1607.4,716.3 1619.5,672.3 1624.1,710.3 1642.3,668.5 1654.5,717.8 1660.5,719.4 1674.2,708 1679.5,682.2" stroke="#3C5488"/>
<polyline points="1218,520.5 1288.6,599.4 1385.2,620.7 1479.3,614.6 1588.4,594.9 1684,711" stroke="#F39B7F"/>
<polyline points="1212.3,705 1236.3,708.6 1278.6,693.5 1295.8,687.7 1314,703.9 1325.5,701.8 1344.3,701.8 1355.8,699.7 1368.3,701.8 1415.5,696.6 1461.1,695.8 1479.3,701.1 1520.3,709.5 1540.7,695.8 1560.4,701.1 1590.7,703.4 1684.8,703.4" stroke="#8491B4"/>
</g>
<rect x="1189.6" y="401.8" width="518" height="331.9" fill="none" stroke="#B3B3B3" stroke-width="1.9"/>
<rect x="1188.7" y="342.8" width="519.8" height="59" fill="#B3B3B3"/>
<line x1="1684.8" y1="734.6" x2="1684.8" y2="743.6" stroke="#B3B3B3" stroke-width="1.7"/>
<text transform="translate(1684.8,772.8) scale(1,1.04)" class="ax" text-anchor="middle">0</text>
<line x1="1565.3" y1="734.6" x2="1565.3" y2="743.6" stroke="#B3B3B3" stroke-width="1.7"/>
<text transform="translate(1565.3,772.8) scale(1,1.04)" class="ax" text-anchor="middle">2000</text>
<line x1="1445.7" y1="734.6" x2="1445.7" y2="743.6" stroke="#B3B3B3" stroke-width="1.7"/>
<text transform="translate(1445.7,772.8) scale(1,1.04)" class="ax" text-anchor="middle">4000</text>
<line x1="1326.2" y1="734.6" x2="1326.2" y2="743.6" stroke="#B3B3B3" stroke-width="1.7"/>
<text transform="translate(1326.2,772.8) scale(1,1.04)" class="ax" text-anchor="middle">6000</text>
<line x1="1206.7" y1="734.6" x2="1206.7" y2="743.6" stroke="#B3B3B3" stroke-width="1.7"/>
<text transform="translate(1206.7,772.8) scale(1,1.04)" class="ax" text-anchor="middle">8000</text>
<line x1="103" y1="729" x2="112.2" y2="729" stroke="#B3B3B3" stroke-width="1.7"/>
<text transform="translate(95.6,739.9) scale(1,1.04)" class="ax" text-anchor="end">0</text>
<line x1="103" y1="646.4" x2="112.2" y2="646.4" stroke="#B3B3B3" stroke-width="1.7"/>
<text transform="translate(95.6,657.3) scale(1,1.04)" class="ax" text-anchor="end">25</text>
<line x1="103" y1="563.8" x2="112.2" y2="563.8" stroke="#B3B3B3" stroke-width="1.7"/>
<text transform="translate(95.6,574.7) scale(1,1.04)" class="ax" text-anchor="end">50</text>
<line x1="103" y1="481.2" x2="112.2" y2="481.2" stroke="#B3B3B3" stroke-width="1.7"/>
<text transform="translate(95.6,492.1) scale(1,1.04)" class="ax" text-anchor="end">75</text>
<text x="372" y="382.9" class="st" text-anchor="middle">unimodal surrogate</text>
<text x="910.3" y="382.9" class="st" text-anchor="middle">alternative stability surrogate</text>
<text x="1448.6" y="382.9" class="st" text-anchor="middle">pollen−based</text>
<text x="910.3" y="815" class="ti" text-anchor="middle">Age (yrs BP)</text>
<text transform="translate(44.4,567.5) rotate(-90)" class="ti" text-anchor="middle">tree cover (%)</text>
<text x="15.5" y="378.5" class="lb">b</text>
<line x1="145.9" y1="861.0" x2="145.9" y2="1078.0" stroke="#DEDEDE" stroke-width="1.9"/>
<line x1="209.1" y1="861.0" x2="209.1" y2="1078.0" stroke="#DEDEDE" stroke-width="1.35"/>
<line x1="272.3" y1="861.0" x2="272.3" y2="1078.0" stroke="#DEDEDE" stroke-width="1.9"/>
<line x1="335.5" y1="861.0" x2="335.5" y2="1078.0" stroke="#DEDEDE" stroke-width="1.35"/>
<line x1="398.7" y1="861.0" x2="398.7" y2="1078.0" stroke="#DEDEDE" stroke-width="1.9"/>
<line x1="461.9" y1="861.0" x2="461.9" y2="1078.0" stroke="#DEDEDE" stroke-width="1.35"/>
<line x1="525.1" y1="861.0" x2="525.1" y2="1078.0" stroke="#DEDEDE" stroke-width="1.9"/>
<line x1="588.3" y1="861.0" x2="588.3" y2="1078.0" stroke="#DEDEDE" stroke-width="1.35"/>
<line x1="137.7" y1="1068.6" x2="647.8" y2="1068.6" stroke="#DEDEDE" stroke-width="1.9"/>
<line x1="137.7" y1="1046.1" x2="647.8" y2="1046.1" stroke="#DEDEDE" stroke-width="1.35"/>
<line x1="137.7" y1="1023.6" x2="647.8" y2="1023.6" stroke="#DEDEDE" stroke-width="1.9"/>
<line x1="137.7" y1="1001.2" x2="647.8" y2="1001.2" stroke="#DEDEDE" stroke-width="1.35"/>
<line x1="137.7" y1="978.7" x2="647.8" y2="978.7" stroke="#DEDEDE" stroke-width="1.9"/>
<line x1="137.7" y1="956.2" x2="647.8" y2="956.2" stroke="#DEDEDE" stroke-width="1.35"/>
<line x1="137.7" y1="933.7" x2="647.8" y2="933.7" stroke="#DEDEDE" stroke-width="1.9"/>
<line x1="137.7" y1="911.3" x2="647.8" y2="911.3" stroke="#DEDEDE" stroke-width="1.35"/>
<line x1="137.7" y1="888.8" x2="647.8" y2="888.8" stroke="#DEDEDE" stroke-width="1.9"/>
<line x1="137.7" y1="866.3" x2="647.8" y2="866.3" stroke="#DEDEDE" stroke-width="1.35"/>
<path d="M160.2,1068.6 L161.4,1068.6 L162.5,1068.6 L163.7,1068.6 L164.9,1068.6 L166,1068.6 L167.2,1068.6 L168.4,1068.6 L169.5,1068.6 L170.7,1068.6 L171.9,1068.6 L173,1068.6 L174.2,1068.6 L175.4,1068.6 L176.5,1068.6 L177.7,1068.6 L178.9,1068.6 L180,1068.6 L181.2,1068.6 L182.4,1068.6 L183.5,1068.6 L184.7,1068.6 L185.9,1068.6 L187,1068.6 L188.2,1068.6 L189.4,1068.6 L190.5,1068.6 L191.7,1068.6 L192.9,1068.6 L194,1068.6 L195.2,1068.6 L196.4,1068.6 L197.5,1068.6 L198.7,1068.6 L199.9,1068.6 L201,1068.6 L202.2,1068.6 L203.4,1068.6 L204.5,1068.6 L205.7,1068.6 L206.9,1068.6 L208,1068.6 L209.2,1068.5 L210.4,1068.5 L211.5,1068.5 L212.7,1068.5 L213.9,1068.5 L215,1068.5 L216.2,1068.5 L217.4,1068.4 L218.5,1068.4 L219.7,1068.4 L220.9,1068.4 L222,1068.3 L223.2,1068.3 L224.4,1068.2 L225.5,1068.2 L226.7,1068.1 L227.9,1068.1 L229,1068 L230.2,1067.9 L231.4,1067.8 L232.5,1067.8 L233.7,1067.7 L234.9,1067.5 L236,1067.4 L237.2,1067.3 L238.4,1067.1 L239.5,1067 L240.7,1066.8 L241.8,1066.6 L243,1066.4 L244.2,1066.2 L245.3,1066 L246.5,1065.8 L247.7,1065.5 L248.8,1065.3 L250,1065 L251.2,1064.7 L252.3,1064.4 L253.5,1064.1 L254.7,1063.7 L255.8,1063.4 L257,1063 L258.2,1062.6 L259.3,1062.2 L260.5,1061.8 L261.7,1061.4 L262.8,1061 L264,1060.6 L265.2,1060.1 L266.3,1059.6 L267.5,1059.2 L268.7,1058.7 L269.8,1058.2 L271,1057.7 L272.2,1057.2 L273.3,1056.6 L274.5,1056.1 L275.7,1055.5 L276.8,1055 L278,1054.4 L279.2,1053.8 L280.3,1053.2 L281.5,1052.6 L282.7,1051.9 L283.8,1051.3 L285,1050.6 L286.2,1049.9 L287.3,1049.2 L288.5,1048.4 L289.7,1047.7 L290.8,1046.9 L292,1046.1 L293.2,1045.2 L294.3,1044.4 L295.5,1043.5 L296.7,1042.6 L297.8,1041.7 L299,1040.7 L300.2,1039.8 L301.3,1038.8 L302.5,1037.8 L303.7,1036.8 L304.8,1035.8 L306,1034.8 L307.2,1033.8 L308.3,1032.8 L309.5,1031.9 L310.7,1030.9 L311.8,1030 L313,1029.1 L314.2,1028.2 L315.3,1027.4 L316.5,1026.6 L317.7,1025.8 L318.8,1025.2 L320,1024.5 L321.2,1024 L322.3,1023.5 L323.5,1023 L324.7,1022.7 L325.8,1022.4 L327,1022.2 L328.2,1022 L329.3,1022 L330.5,1022 L331.7,1022 L332.8,1022.2 L334,1022.4 L335.2,1022.6 L336.3,1022.9 L337.5,1023.3 L338.7,1023.7 L339.8,1024.1 L341,1024.6 L342.2,1025.1 L343.3,1025.6 L344.5,1026.1 L345.7,1026.6 L346.8,1027 L348,1027.5 L349.1,1028 L350.3,1028.4 L351.5,1028.8 L352.6,1029.1 L353.8,1029.4 L355,1029.6 L356.1,1029.7 L357.3,1029.8 L358.5,1029.8 L359.6,1029.7 L360.8,1029.5 L362,1029.3 L363.1,1028.9 L364.3,1028.5 L365.5,1028 L366.6,1027.3 L367.8,1026.6 L369,1025.8 L370.1,1024.8 L371.3,1023.8 L372.5,1022.7 L373.6,1021.5 L374.8,1020.2 L376,1018.8 L377.1,1017.3 L378.3,1015.7 L379.5,1014.1 L380.6,1012.3 L381.8,1010.5 L383,1008.6 L384.1,1006.7 L385.3,1004.7 L386.5,1002.6 L387.6,1000.5 L388.8,998.4 L390,996.2 L391.1,993.9 L392.3,991.6 L393.5,989.3 L394.6,987 L395.8,984.7 L397,982.3 L398.1,979.9 L399.3,977.5 L400.5,975.1 L401.6,972.7 L402.8,970.3 L404,967.9 L405.1,965.5 L406.3,963.1 L407.5,960.7 L408.6,958.3 L409.8,955.9 L411,953.5 L412.1,951.2 L413.3,948.8 L414.5,946.4 L415.6,944.1 L416.8,941.7 L418,939.4 L419.1,937 L420.3,934.7 L421.5,932.4 L422.6,930.1 L423.8,927.8 L425,925.6 L426.1,923.4 L427.3,921.2 L428.5,919 L429.6,916.9 L430.8,914.8 L432,912.7 L433.1,910.8 L434.3,908.8 L435.5,907 L436.6,905.2 L437.8,903.5 L439,901.8 L440.1,900.3 L441.3,898.8 L442.5,897.5 L443.6,896.2 L444.8,895 L446,894 L447.1,893 L448.3,892.1 L449.5,891.4 L450.6,890.7 L451.8,890.1 L453,889.6 L454.1,889.2 L455.3,889 L456.4,888.8 L457.6,888.6 L458.8,888.6 L459.9,888.7 L461.1,888.8 L462.3,889 L463.4,889.3 L464.6,889.7 L465.8,890.1 L466.9,890.6 L468.1,891.2 L469.3,891.9 L470.4,892.6 L471.6,893.5 L472.8,894.4 L473.9,895.4 L475.1,896.5 L476.3,897.7 L477.4,899 L478.6,900.4 L479.8,902 L480.9,903.6 L482.1,905.3 L483.3,907.2 L484.4,909.2 L485.6,911.3 L486.8,913.5 L487.9,915.8 L489.1,918.2 L490.3,920.8 L491.4,923.4 L492.6,926.2 L493.8,929 L494.9,931.9 L496.1,934.9 L497.3,938 L498.4,941.1 L499.6,944.3 L500.8,947.5 L501.9,950.7 L503.1,954 L504.3,957.3 L505.4,960.5 L506.6,963.8 L507.8,967 L508.9,970.2 L510.1,973.4 L511.3,976.5 L512.4,979.6 L513.6,982.7 L514.8,985.7 L515.9,988.6 L517.1,991.5 L518.3,994.3 L519.4,997 L520.6,999.7 L521.8,1002.3 L522.9,1004.8 L524.1,1007.3 L525.3,1009.7 L526.4,1012.1 L527.6,1014.4 L528.8,1016.6 L529.9,1018.8 L531.1,1020.9 L532.3,1023 L533.4,1025 L534.6,1027 L535.8,1028.9 L536.9,1030.8 L538.1,1032.6 L539.3,1034.4 L540.4,1036.1 L541.6,1037.8 L542.8,1039.5 L543.9,1041.1 L545.1,1042.6 L546.3,1044.1 L547.4,1045.6 L548.6,1047 L549.8,1048.3 L550.9,1049.6 L552.1,1050.9 L553.3,1052.1 L554.4,1053.3 L555.6,1054.4 L556.8,1055.4 L557.9,1056.4 L559.1,1057.4 L560.2,1058.3 L561.4,1059.1 L562.6,1059.9 L563.7,1060.7 L564.9,1061.4 L566.1,1062 L567.2,1062.6 L568.4,1063.2 L569.6,1063.7 L570.7,1064.2 L571.9,1064.6 L573.1,1065.1 L574.2,1065.4 L575.4,1065.8 L576.6,1066.1 L577.7,1066.4 L578.9,1066.6 L580.1,1066.9 L581.2,1067.1 L582.4,1067.2 L583.6,1067.4 L584.7,1067.6 L585.9,1067.7 L587.1,1067.8 L588.2,1067.9 L589.4,1068 L590.6,1068.1 L591.7,1068.2 L592.9,1068.2 L594.1,1068.3 L595.2,1068.3 L596.4,1068.4 L597.6,1068.4 L598.7,1068.4 L599.9,1068.5 L601.1,1068.5 L602.2,1068.5 L603.4,1068.5 L604.6,1068.5 L605.7,1068.5 L606.9,1068.6 L608.1,1068.6 L609.2,1068.6 L610.4,1068.6 L611.6,1068.6 L612.7,1068.6 L613.9,1068.6 L615.1,1068.6 L616.2,1068.6 L617.4,1068.6 L618.6,1068.6 L619.7,1068.6 L620.9,1068.6 L622.1,1068.6 L623.2,1068.6 L624.4,1068.6 L625.6,1068.6 L625.6,1068.6 L160.2,1068.6 Z" fill="#00A087"/>
<path d="M160.2,1068.6 L161.4,1068.6 L162.5,1068.6 L163.7,1068.6 L164.9,1068.6 L166,1068.6 L167.2,1068.6 L168.4,1068.6 L169.5,1068.6 L170.7,1068.6 L171.9,1068.6 L173,1068.6 L174.2,1068.6 L175.4,1068.6 L176.5,1068.6 L177.7,1068.6 L178.9,1068.6 L180,1068.6 L181.2,1068.6 L182.4,1068.6 L183.5,1068.6 L184.7,1068.6 L185.9,1068.6 L187,1068.6 L188.2,1068.6 L189.4,1068.6 L190.5,1068.6 L191.7,1068.6 L192.9,1068.6 L194,1068.6 L195.2,1068.6 L196.4,1068.6 L197.5,1068.6 L198.7,1068.6 L199.9,1068.6 L201,1068.6 L202.2,1068.6 L203.4,1068.6 L204.5,1068.6 L205.7,1068.6 L206.9,1068.6 L208,1068.6 L209.2,1068.5 L210.4,1068.5 L211.5,1068.5 L212.7,1068.5 L213.9,1068.5 L215,1068.5 L216.2,1068.5 L217.4,1068.4 L218.5,1068.4 L219.7,1068.4 L220.9,1068.4 L222,1068.3 L223.2,1068.3 L224.4,1068.2 L225.5,1068.2 L226.7,1068.1 L227.9,1068.1 L229,1068 L230.2,1067.9 L231.4,1067.8 L232.5,1067.8 L233.7,1067.7 L234.9,1067.5 L236,1067.4 L237.2,1067.3 L238.4,1067.1 L239.5,1067 L240.7,1066.8 L241.8,1066.6 L243,1066.4 L244.2,1066.2 L245.3,1066 L246.5,1065.8 L247.7,1065.5 L248.8,1065.3 L250,1065 L251.2,1064.7 L252.3,1064.4 L253.5,1064.1 L254.7,1063.7 L255.8,1063.4 L257,1063 L258.2,1062.6 L259.3,1062.2 L260.5,1061.8 L261.7,1061.4 L262.8,1061 L264,1060.6 L265.2,1060.1 L266.3,1059.6 L267.5,1059.2 L268.7,1058.7 L269.8,1058.2 L271,1057.7 L272.2,1057.2 L273.3,1056.6 L274.5,1056.1 L275.7,1055.5 L276.8,1055 L278,1054.4 L279.2,1053.8 L280.3,1053.2 L281.5,1052.6 L282.7,1051.9 L283.8,1051.3 L285,1050.6 L286.2,1049.9 L287.3,1049.2 L288.5,1048.4 L289.7,1047.7 L290.8,1046.9 L292,1046.1 L293.2,1045.2 L294.3,1044.4 L295.5,1043.5 L296.7,1042.6 L297.8,1041.7 L299,1040.7 L300.2,1039.8 L301.3,1038.8 L302.5,1037.8 L303.7,1036.8 L304.8,1035.8 L306,1034.8 L307.2,1033.8 L308.3,1032.8 L309.5,1031.9 L310.7,1030.9 L311.8,1030 L313,1029.1 L314.2,1028.2 L315.3,1027.4 L316.5,1026.6 L317.7,1025.8 L318.8,1025.2 L320,1024.5 L321.2,1024 L322.3,1023.5 L323.5,1023 L324.7,1022.7 L325.8,1022.4 L327,1022.2 L328.2,1022 L329.3,1022 L330.5,1022 L331.7,1022 L332.8,1022.2 L334,1022.4 L335.2,1022.6 L336.3,1022.9 L337.5,1023.3 L338.7,1023.7 L339.8,1024.1 L341,1024.6 L342.2,1025.1 L343.3,1025.6 L344.5,1026.1 L345.7,1026.6 L346.8,1027 L348,1027.5 L349.1,1028 L350.3,1028.4 L351.5,1028.8 L352.6,1029.1 L353.8,1029.4 L355,1029.6 L356.1,1029.7 L357.3,1029.8 L358.5,1029.8 L359.6,1029.7 L360.8,1029.5 L362,1029.3 L363.1,1028.9 L364.3,1028.5 L365.5,1028 L366.6,1027.3 L367.8,1026.6 L369,1025.8 L370.1,1024.8 L371.3,1023.8 L372.5,1022.7 L373.6,1021.5 L374.8,1020.2 L376,1018.8 L377.1,1017.3 L378.3,1015.7 L379.5,1014.1 L380.6,1012.3 L381.8,1010.5 L383,1008.6 L384.1,1006.7 L385.3,1004.7 L386.5,1002.6 L387.6,1000.5 L388.8,998.4 L390,996.2 L391.1,993.9 L392.3,991.6 L393.5,989.3 L394.6,987 L395.8,984.7 L397,982.3 L398.1,979.9 L399.3,977.5 L400.5,975.1 L401.6,972.7 L402.8,970.3 L404,967.9 L405.1,965.5 L406.3,963.1 L407.5,960.7 L408.6,958.3 L409.8,955.9 L411,953.5 L412.1,951.2 L413.3,948.8 L414.5,946.4 L415.6,944.1 L416.8,941.7 L418,939.4 L419.1,937 L420.3,934.7 L421.5,932.4 L422.6,930.1 L423.8,927.8 L425,925.6 L426.1,923.4 L427.3,921.2 L428.5,919 L429.6,916.9 L430.8,914.8 L432,912.7 L433.1,910.8 L434.3,908.8 L435.5,907 L436.6,905.2 L437.8,903.5 L439,901.8 L440.1,900.3 L441.3,898.8 L442.5,897.5 L443.6,896.2 L444.8,895 L446,894 L447.1,893 L448.3,892.1 L449.5,891.4 L450.6,890.7 L451.8,890.1 L453,889.6 L454.1,889.2 L455.3,889 L456.4,888.8 L457.6,888.6 L458.8,888.6 L459.9,888.7 L461.1,888.8 L462.3,889 L463.4,889.3 L464.6,889.7 L465.8,890.1 L466.9,890.6 L468.1,891.2 L469.3,891.9 L470.4,892.6 L471.6,893.5 L472.8,894.4 L473.9,895.4 L475.1,896.5 L476.3,897.7 L477.4,899 L478.6,900.4 L479.8,902 L480.9,903.6 L482.1,905.3 L483.3,907.2 L484.4,909.2 L485.6,911.3 L486.8,913.5 L487.9,915.8 L489.1,918.2 L490.3,920.8 L491.4,923.4 L492.6,926.2 L493.8,929 L494.9,931.9 L496.1,934.9 L497.3,938 L498.4,941.1 L499.6,944.3 L500.8,947.5 L501.9,950.7 L503.1,954 L504.3,957.3 L505.4,960.5 L506.6,963.8 L507.8,967 L508.9,970.2 L510.1,973.4 L511.3,976.5 L512.4,979.6 L513.6,982.7 L514.8,985.7 L515.9,988.6 L517.1,991.5 L518.3,994.3 L519.4,997 L520.6,999.7 L521.8,1002.3 L522.9,1004.8 L524.1,1007.3 L525.3,1009.7 L526.4,1012.1 L527.6,1014.4 L528.8,1016.6 L529.9,1018.8 L531.1,1020.9 L532.3,1023 L533.4,1025 L534.6,1027 L535.8,1028.9 L536.9,1030.8 L538.1,1032.6 L539.3,1034.4 L540.4,1036.1 L541.6,1037.8 L542.8,1039.5 L543.9,1041.1 L545.1,1042.6 L546.3,1044.1 L547.4,1045.6 L548.6,1047 L549.8,1048.3 L550.9,1049.6 L552.1,1050.9 L553.3,1052.1 L554.4,1053.3 L555.6,1054.4 L556.8,1055.4 L557.9,1056.4 L559.1,1057.4 L560.2,1058.3 L561.4,1059.1 L562.6,1059.9 L563.7,1060.7 L564.9,1061.4 L566.1,1062 L567.2,1062.6 L568.4,1063.2 L569.6,1063.7 L570.7,1064.2 L571.9,1064.6 L573.1,1065.1 L574.2,1065.4 L575.4,1065.8 L576.6,1066.1 L577.7,1066.4 L578.9,1066.6 L580.1,1066.9 L581.2,1067.1 L582.4,1067.2 L583.6,1067.4 L584.7,1067.6 L585.9,1067.7 L587.1,1067.8 L588.2,1067.9 L589.4,1068 L590.6,1068.1 L591.7,1068.2 L592.9,1068.2 L594.1,1068.3 L595.2,1068.3 L596.4,1068.4 L597.6,1068.4 L598.7,1068.4 L599.9,1068.5 L601.1,1068.5 L602.2,1068.5 L603.4,1068.5 L604.6,1068.5 L605.7,1068.5 L606.9,1068.6 L608.1,1068.6 L609.2,1068.6 L610.4,1068.6 L611.6,1068.6 L612.7,1068.6 L613.9,1068.6 L615.1,1068.6 L616.2,1068.6 L617.4,1068.6 L618.6,1068.6 L619.7,1068.6 L620.9,1068.6 L622.1,1068.6 L623.2,1068.6 L624.4,1068.6 L625.6,1068.6" fill="none" stroke="#00A087" stroke-width="4"/>
<rect x="138" y="860.9" width="509.7" height="217.1" fill="none" stroke="#B3B3B3" stroke-width="1.9"/>
<line x1="145.9" y1="1078.0" x2="145.9" y2="1087.5" stroke="#B3B3B3" stroke-width="1.7"/>
<text transform="translate(145.9,1117.4) scale(1,1.04)" class="ax" text-anchor="middle">0</text>
<line x1="272.3" y1="1078.0" x2="272.3" y2="1087.5" stroke="#B3B3B3" stroke-width="1.7"/>
<text transform="translate(272.3,1117.4) scale(1,1.04)" class="ax" text-anchor="middle">25</text>
<line x1="398.7" y1="1078.0" x2="398.7" y2="1087.5" stroke="#B3B3B3" stroke-width="1.7"/>
<text transform="translate(398.7,1117.4) scale(1,1.04)" class="ax" text-anchor="middle">50</text>
<line x1="525.1" y1="1078.0" x2="525.1" y2="1087.5" stroke="#B3B3B3" stroke-width="1.7"/>
<text transform="translate(525.1,1117.4) scale(1,1.04)" class="ax" text-anchor="middle">75</text>
<line x1="675.5" y1="861.0" x2="675.5" y2="1078.0" stroke="#DEDEDE" stroke-width="1.9"/>
<line x1="738.7" y1="861.0" x2="738.7" y2="1078.0" stroke="#DEDEDE" stroke-width="1.35"/>
<line x1="801.9" y1="861.0" x2="801.9" y2="1078.0" stroke="#DEDEDE" stroke-width="1.9"/>
<line x1="865.1" y1="861.0" x2="865.1" y2="1078.0" stroke="#DEDEDE" stroke-width="1.35"/>
<line x1="928.3" y1="861.0" x2="928.3" y2="1078.0" stroke="#DEDEDE" stroke-width="1.9"/>
<line x1="991.5" y1="861.0" x2="991.5" y2="1078.0" stroke="#DEDEDE" stroke-width="1.35"/>
<line x1="1054.7" y1="861.0" x2="1054.7" y2="1078.0" stroke="#DEDEDE" stroke-width="1.9"/>
<line x1="1117.9" y1="861.0" x2="1117.9" y2="1078.0" stroke="#DEDEDE" stroke-width="1.35"/>
<line x1="667.8" y1="1068.6" x2="1177.9" y2="1068.6" stroke="#DEDEDE" stroke-width="1.9"/>
<line x1="667.8" y1="1046.1" x2="1177.9" y2="1046.1" stroke="#DEDEDE" stroke-width="1.35"/>
<line x1="667.8" y1="1023.6" x2="1177.9" y2="1023.6" stroke="#DEDEDE" stroke-width="1.9"/>
<line x1="667.8" y1="1001.2" x2="1177.9" y2="1001.2" stroke="#DEDEDE" stroke-width="1.35"/>
<line x1="667.8" y1="978.7" x2="1177.9" y2="978.7" stroke="#DEDEDE" stroke-width="1.9"/>
<line x1="667.8" y1="956.2" x2="1177.9" y2="956.2" stroke="#DEDEDE" stroke-width="1.35"/>
<line x1="667.8" y1="933.7" x2="1177.9" y2="933.7" stroke="#DEDEDE" stroke-width="1.9"/>
<line x1="667.8" y1="911.3" x2="1177.9" y2="911.3" stroke="#DEDEDE" stroke-width="1.35"/>
<line x1="667.8" y1="888.8" x2="1177.9" y2="888.8" stroke="#DEDEDE" stroke-width="1.9"/>
<line x1="667.8" y1="866.3" x2="1177.9" y2="866.3" stroke="#DEDEDE" stroke-width="1.35"/>
<path d="M689.8,1058.2 L691,1057.8 L692.1,1057.2 L693.3,1056.6 L694.5,1055.9 L695.6,1055.1 L696.8,1054.2 L698,1053.3 L699.1,1052.3 L700.3,1051.3 L701.5,1050.2 L702.6,1049.1 L703.8,1047.9 L705,1046.8 L706.1,1045.6 L707.3,1044.5 L708.5,1043.3 L709.6,1042.2 L710.8,1041 L712,1039.9 L713.1,1038.9 L714.3,1037.8 L715.5,1036.8 L716.6,1035.8 L717.8,1034.9 L719,1034 L720.1,1033.1 L721.3,1032.3 L722.5,1031.5 L723.6,1030.7 L724.8,1029.9 L726,1029.1 L727.1,1028.3 L728.3,1027.5 L729.5,1026.7 L730.6,1025.9 L731.8,1025.1 L733,1024.2 L734.1,1023.2 L735.3,1022.3 L736.5,1021.2 L737.6,1020.1 L738.8,1018.9 L740,1017.6 L741.1,1016.2 L742.3,1014.7 L743.5,1013.1 L744.6,1011.3 L745.8,1009.4 L747,1007.4 L748.1,1005.2 L749.3,1002.9 L750.5,1000.4 L751.6,997.8 L752.8,995 L754,992 L755.1,988.9 L756.3,985.7 L757.5,982.2 L758.6,978.7 L759.8,975 L761,971.3 L762.1,967.4 L763.3,963.4 L764.5,959.4 L765.6,955.4 L766.8,951.3 L768,947.2 L769.1,943.2 L770.3,939.2 L771.4,935.2 L772.6,931.3 L773.8,927.5 L774.9,923.8 L776.1,920.2 L777.3,916.7 L778.4,913.3 L779.6,910.1 L780.8,906.9 L781.9,903.9 L783.1,901 L784.3,898.2 L785.4,895.5 L786.6,892.9 L787.8,890.5 L788.9,888.1 L790.1,885.8 L791.3,883.6 L792.4,881.5 L793.6,879.5 L794.8,877.7 L795.9,875.9 L797.1,874.3 L798.3,872.8 L799.4,871.5 L800.6,870.3 L801.8,869.4 L802.9,868.6 L804.1,868.1 L805.3,867.8 L806.4,867.7 L807.6,867.9 L808.8,868.3 L809.9,869 L811.1,870 L812.3,871.3 L813.4,872.8 L814.6,874.5 L815.8,876.5 L816.9,878.7 L818.1,881.2 L819.3,883.8 L820.4,886.7 L821.6,889.7 L822.8,892.9 L823.9,896.2 L825.1,899.7 L826.3,903.2 L827.4,906.9 L828.6,910.7 L829.8,914.6 L830.9,918.6 L832.1,922.6 L833.3,926.8 L834.4,931 L835.6,935.3 L836.8,939.6 L837.9,944 L839.1,948.5 L840.3,953 L841.4,957.6 L842.6,962.2 L843.8,966.9 L844.9,971.5 L846.1,976.2 L847.3,980.9 L848.4,985.6 L849.6,990.2 L850.8,994.8 L851.9,999.3 L853.1,1003.8 L854.3,1008.1 L855.4,1012.4 L856.6,1016.5 L857.8,1020.5 L858.9,1024.3 L860.1,1027.9 L861.3,1031.4 L862.4,1034.7 L863.6,1037.8 L864.8,1040.7 L865.9,1043.4 L867.1,1045.9 L868.3,1048.2 L869.4,1050.3 L870.6,1052.2 L871.8,1053.9 L872.9,1055.5 L874.1,1056.9 L875.3,1058.1 L876.4,1059.2 L877.6,1060.2 L878.7,1061 L879.9,1061.7 L881.1,1062.2 L882.2,1062.7 L883.4,1063.1 L884.6,1063.4 L885.7,1063.7 L886.9,1063.8 L888.1,1063.9 L889.2,1064 L890.4,1064 L891.6,1063.9 L892.7,1063.8 L893.9,1063.7 L895.1,1063.6 L896.2,1063.4 L897.4,1063.2 L898.6,1062.9 L899.7,1062.7 L900.9,1062.4 L902.1,1062.1 L903.2,1061.8 L904.4,1061.5 L905.6,1061.1 L906.7,1060.8 L907.9,1060.5 L909.1,1060.1 L910.2,1059.8 L911.4,1059.4 L912.6,1059.1 L913.7,1058.7 L914.9,1058.4 L916.1,1058 L917.2,1057.7 L918.4,1057.4 L919.6,1057.1 L920.7,1056.7 L921.9,1056.5 L923.1,1056.2 L924.2,1055.9 L925.4,1055.6 L926.6,1055.4 L927.7,1055.1 L928.9,1054.8 L930.1,1054.6 L931.2,1054.3 L932.4,1054 L933.6,1053.7 L934.7,1053.4 L935.9,1053.1 L937.1,1052.7 L938.2,1052.3 L939.4,1051.9 L940.6,1051.4 L941.7,1050.9 L942.9,1050.3 L944.1,1049.7 L945.2,1049.1 L946.4,1048.4 L947.6,1047.6 L948.7,1046.8 L949.9,1046 L951.1,1045.1 L952.2,1044.2 L953.4,1043.2 L954.6,1042.2 L955.7,1041.2 L956.9,1040.1 L958.1,1039.1 L959.2,1038 L960.4,1036.9 L961.6,1035.7 L962.7,1034.6 L963.9,1033.5 L965.1,1032.4 L966.2,1031.3 L967.4,1030.2 L968.6,1029.2 L969.7,1028.1 L970.9,1027.1 L972.1,1026.1 L973.2,1025.2 L974.4,1024.2 L975.6,1023.4 L976.7,1022.5 L977.9,1021.8 L979.1,1021 L980.2,1020.3 L981.4,1019.7 L982.6,1019.2 L983.7,1018.7 L984.9,1018.3 L986,1017.9 L987.2,1017.6 L988.4,1017.5 L989.5,1017.4 L990.7,1017.3 L991.9,1017.4 L993,1017.6 L994.2,1017.9 L995.4,1018.2 L996.5,1018.7 L997.7,1019.2 L998.9,1019.9 L1000,1020.7 L1001.2,1021.5 L1002.4,1022.5 L1003.5,1023.5 L1004.7,1024.6 L1005.9,1025.8 L1007,1027.1 L1008.2,1028.4 L1009.4,1029.8 L1010.5,1031.3 L1011.7,1032.7 L1012.9,1034.2 L1014,1035.7 L1015.2,1037.2 L1016.4,1038.7 L1017.5,1040.2 L1018.7,1041.7 L1019.9,1043.1 L1021,1044.4 L1022.2,1045.7 L1023.4,1046.9 L1024.5,1048.1 L1025.7,1049.1 L1026.9,1050.1 L1028,1051 L1029.2,1051.8 L1030.4,1052.5 L1031.5,1053.1 L1032.7,1053.7 L1033.9,1054.1 L1035,1054.5 L1036.2,1054.8 L1037.4,1055 L1038.5,1055.1 L1039.7,1055.2 L1040.9,1055.3 L1042,1055.3 L1043.2,1055.3 L1044.4,1055.2 L1045.5,1055.2 L1046.7,1055.1 L1047.9,1055 L1049,1054.9 L1050.2,1054.9 L1051.4,1054.8 L1052.5,1054.8 L1053.7,1054.8 L1054.9,1054.8 L1056,1054.8 L1057.2,1054.9 L1058.4,1054.9 L1059.5,1055 L1060.7,1055.1 L1061.9,1055.2 L1063,1055.3 L1064.2,1055.4 L1065.4,1055.5 L1066.5,1055.6 L1067.7,1055.7 L1068.9,1055.8 L1070,1055.8 L1071.2,1055.8 L1072.4,1055.8 L1073.5,1055.7 L1074.7,1055.6 L1075.9,1055.5 L1077,1055.3 L1078.2,1055.1 L1079.4,1054.8 L1080.5,1054.5 L1081.7,1054.2 L1082.9,1053.8 L1084,1053.4 L1085.2,1052.9 L1086.4,1052.5 L1087.5,1052 L1088.7,1051.5 L1089.8,1051 L1091,1050.5 L1092.2,1050 L1093.3,1049.6 L1094.5,1049.1 L1095.7,1048.6 L1096.8,1048.2 L1098,1047.8 L1099.2,1047.4 L1100.3,1047.1 L1101.5,1046.8 L1102.7,1046.5 L1103.8,1046.3 L1105,1046 L1106.2,1045.9 L1107.3,1045.7 L1108.5,1045.6 L1109.7,1045.5 L1110.8,1045.4 L1112,1045.4 L1113.2,1045.4 L1114.3,1045.4 L1115.5,1045.5 L1116.7,1045.5 L1117.8,1045.7 L1119,1045.8 L1120.2,1046 L1121.3,1046.2 L1122.5,1046.4 L1123.7,1046.6 L1124.8,1046.9 L1126,1047.3 L1127.2,1047.6 L1128.3,1048 L1129.5,1048.5 L1130.7,1048.9 L1131.8,1049.4 L1133,1050 L1134.2,1050.5 L1135.3,1051.1 L1136.5,1051.7 L1137.7,1052.3 L1138.8,1052.9 L1140,1053.6 L1141.2,1054.2 L1142.3,1054.8 L1143.5,1055.4 L1144.7,1055.9 L1145.8,1056.4 L1147,1056.9 L1148.2,1057.3 L1149.3,1057.6 L1150.5,1057.8 L1151.7,1057.9 L1152.8,1057.9 L1154,1057.7 L1155.2,1057.4 L1155.2,1068.6 L689.8,1068.6 Z" fill="#E64B35"/>
<path d="M689.8,1058.2 L691,1057.8 L692.1,1057.2 L693.3,1056.6 L694.5,1055.9 L695.6,1055.1 L696.8,1054.2 L698,1053.3 L699.1,1052.3 L700.3,1051.3 L701.5,1050.2 L702.6,1049.1 L703.8,1047.9 L705,1046.8 L706.1,1045.6 L707.3,1044.5 L708.5,1043.3 L709.6,1042.2 L710.8,1041 L712,1039.9 L713.1,1038.9 L714.3,1037.8 L715.5,1036.8 L716.6,1035.8 L717.8,1034.9 L719,1034 L720.1,1033.1 L721.3,1032.3 L722.5,1031.5 L723.6,1030.7 L724.8,1029.9 L726,1029.1 L727.1,1028.3 L728.3,1027.5 L729.5,1026.7 L730.6,1025.9 L731.8,1025.1 L733,1024.2 L734.1,1023.2 L735.3,1022.3 L736.5,1021.2 L737.6,1020.1 L738.8,1018.9 L740,1017.6 L741.1,1016.2 L742.3,1014.7 L743.5,1013.1 L744.6,1011.3 L745.8,1009.4 L747,1007.4 L748.1,1005.2 L749.3,1002.9 L750.5,1000.4 L751.6,997.8 L752.8,995 L754,992 L755.1,988.9 L756.3,985.7 L757.5,982.2 L758.6,978.7 L759.8,975 L761,971.3 L762.1,967.4 L763.3,963.4 L764.5,959.4 L765.6,955.4 L766.8,951.3 L768,947.2 L769.1,943.2 L770.3,939.2 L771.4,935.2 L772.6,931.3 L773.8,927.5 L774.9,923.8 L776.1,920.2 L777.3,916.7 L778.4,913.3 L779.6,910.1 L780.8,906.9 L781.9,903.9 L783.1,901 L784.3,898.2 L785.4,895.5 L786.6,892.9 L787.8,890.5 L788.9,888.1 L790.1,885.8 L791.3,883.6 L792.4,881.5 L793.6,879.5 L794.8,877.7 L795.9,875.9 L797.1,874.3 L798.3,872.8 L799.4,871.5 L800.6,870.3 L801.8,869.4 L802.9,868.6 L804.1,868.1 L805.3,867.8 L806.4,867.7 L807.6,867.9 L808.8,868.3 L809.9,869 L811.1,870 L812.3,871.3 L813.4,872.8 L814.6,874.5 L815.8,876.5 L816.9,878.7 L818.1,881.2 L819.3,883.8 L820.4,886.7 L821.6,889.7 L822.8,892.9 L823.9,896.2 L825.1,899.7 L826.3,903.2 L827.4,906.9 L828.6,910.7 L829.8,914.6 L830.9,918.6 L832.1,922.6 L833.3,926.8 L834.4,931 L835.6,935.3 L836.8,939.6 L837.9,944 L839.1,948.5 L840.3,953 L841.4,957.6 L842.6,962.2 L843.8,966.9 L844.9,971.5 L846.1,976.2 L847.3,980.9 L848.4,985.6 L849.6,990.2 L850.8,994.8 L851.9,999.3 L853.1,1003.8 L854.3,1008.1 L855.4,1012.4 L856.6,1016.5 L857.8,1020.5 L858.9,1024.3 L860.1,1027.9 L861.3,1031.4 L862.4,1034.7 L863.6,1037.8 L864.8,1040.7 L865.9,1043.4 L867.1,1045.9 L868.3,1048.2 L869.4,1050.3 L870.6,1052.2 L871.8,1053.9 L872.9,1055.5 L874.1,1056.9 L875.3,1058.1 L876.4,1059.2 L877.6,1060.2 L878.7,1061 L879.9,1061.7 L881.1,1062.2 L882.2,1062.7 L883.4,1063.1 L884.6,1063.4 L885.7,1063.7 L886.9,1063.8 L888.1,1063.9 L889.2,1064 L890.4,1064 L891.6,1063.9 L892.7,1063.8 L893.9,1063.7 L895.1,1063.6 L896.2,1063.4 L897.4,1063.2 L898.6,1062.9 L899.7,1062.7 L900.9,1062.4 L902.1,1062.1 L903.2,1061.8 L904.4,1061.5 L905.6,1061.1 L906.7,1060.8 L907.9,1060.5 L909.1,1060.1 L910.2,1059.8 L911.4,1059.4 L912.6,1059.1 L913.7,1058.7 L914.9,1058.4 L916.1,1058 L917.2,1057.7 L918.4,1057.4 L919.6,1057.1 L920.7,1056.7 L921.9,1056.5 L923.1,1056.2 L924.2,1055.9 L925.4,1055.6 L926.6,1055.4 L927.7,1055.1 L928.9,1054.8 L930.1,1054.6 L931.2,1054.3 L932.4,1054 L933.6,1053.7 L934.7,1053.4 L935.9,1053.1 L937.1,1052.7 L938.2,1052.3 L939.4,1051.9 L940.6,1051.4 L941.7,1050.9 L942.9,1050.3 L944.1,1049.7 L945.2,1049.1 L946.4,1048.4 L947.6,1047.6 L948.7,1046.8 L949.9,1046 L951.1,1045.1 L952.2,1044.2 L953.4,1043.2 L954.6,1042.2 L955.7,1041.2 L956.9,1040.1 L958.1,1039.1 L959.2,1038 L960.4,1036.9 L961.6,1035.7 L962.7,1034.6 L963.9,1033.5 L965.1,1032.4 L966.2,1031.3 L967.4,1030.2 L968.6,1029.2 L969.7,1028.1 L970.9,1027.1 L972.1,1026.1 L973.2,1025.2 L974.4,1024.2 L975.6,1023.4 L976.7,1022.5 L977.9,1021.8 L979.1,1021 L980.2,1020.3 L981.4,1019.7 L982.6,1019.2 L983.7,1018.7 L984.9,1018.3 L986,1017.9 L987.2,1017.6 L988.4,1017.5 L989.5,1017.4 L990.7,1017.3 L991.9,1017.4 L993,1017.6 L994.2,1017.9 L995.4,1018.2 L996.5,1018.7 L997.7,1019.2 L998.9,1019.9 L1000,1020.7 L1001.2,1021.5 L1002.4,1022.5 L1003.5,1023.5 L1004.7,1024.6 L1005.9,1025.8 L1007,1027.1 L1008.2,1028.4 L1009.4,1029.8 L1010.5,1031.3 L1011.7,1032.7 L1012.9,1034.2 L1014,1035.7 L1015.2,1037.2 L1016.4,1038.7 L1017.5,1040.2 L1018.7,1041.7 L1019.9,1043.1 L1021,1044.4 L1022.2,1045.7 L1023.4,1046.9 L1024.5,1048.1 L1025.7,1049.1 L1026.9,1050.1 L1028,1051 L1029.2,1051.8 L1030.4,1052.5 L1031.5,1053.1 L1032.7,1053.7 L1033.9,1054.1 L1035,1054.5 L1036.2,1054.8 L1037.4,1055 L1038.5,1055.1 L1039.7,1055.2 L1040.9,1055.3 L1042,1055.3 L1043.2,1055.3 L1044.4,1055.2 L1045.5,1055.2 L1046.7,1055.1 L1047.9,1055 L1049,1054.9 L1050.2,1054.9 L1051.4,1054.8 L1052.5,1054.8 L1053.7,1054.8 L1054.9,1054.8 L1056,1054.8 L1057.2,1054.9 L1058.4,1054.9 L1059.5,1055 L1060.7,1055.1 L1061.9,1055.2 L1063,1055.3 L1064.2,1055.4 L1065.4,1055.5 L1066.5,1055.6 L1067.7,1055.7 L1068.9,1055.8 L1070,1055.8 L1071.2,1055.8 L1072.4,1055.8 L1073.5,1055.7 L1074.7,1055.6 L1075.9,1055.5 L1077,1055.3 L1078.2,1055.1 L1079.4,1054.8 L1080.5,1054.5 L1081.7,1054.2 L1082.9,1053.8 L1084,1053.4 L1085.2,1052.9 L1086.4,1052.5 L1087.5,1052 L1088.7,1051.5 L1089.8,1051 L1091,1050.5 L1092.2,1050 L1093.3,1049.6 L1094.5,1049.1 L1095.7,1048.6 L1096.8,1048.2 L1098,1047.8 L1099.2,1047.4 L1100.3,1047.1 L1101.5,1046.8 L1102.7,1046.5 L1103.8,1046.3 L1105,1046 L1106.2,1045.9 L1107.3,1045.7 L1108.5,1045.6 L1109.7,1045.5 L1110.8,1045.4 L1112,1045.4 L1113.2,1045.4 L1114.3,1045.4 L1115.5,1045.5 L1116.7,1045.5 L1117.8,1045.7 L1119,1045.8 L1120.2,1046 L1121.3,1046.2 L1122.5,1046.4 L1123.7,1046.6 L1124.8,1046.9 L1126,1047.3 L1127.2,1047.6 L1128.3,1048 L1129.5,1048.5 L1130.7,1048.9 L1131.8,1049.4 L1133,1050 L1134.2,1050.5 L1135.3,1051.1 L1136.5,1051.7 L1137.7,1052.3 L1138.8,1052.9 L1140,1053.6 L1141.2,1054.2 L1142.3,1054.8 L1143.5,1055.4 L1144.7,1055.9 L1145.8,1056.4 L1147,1056.9 L1148.2,1057.3 L1149.3,1057.6 L1150.5,1057.8 L1151.7,1057.9 L1152.8,1057.9 L1154,1057.7 L1155.2,1057.4" fill="none" stroke="#E64B35" stroke-width="4"/>
<rect x="668.1" y="860.9" width="509.7" height="217.1" fill="none" stroke="#B3B3B3" stroke-width="1.9"/>
<line x1="675.5" y1="1078.0" x2="675.5" y2="1087.5" stroke="#B3B3B3" stroke-width="1.7"/>
<text transform="translate(675.5,1117.4) scale(1,1.04)" class="ax" text-anchor="middle">0</text>
<line x1="801.9" y1="1078.0" x2="801.9" y2="1087.5" stroke="#B3B3B3" stroke-width="1.7"/>
<text transform="translate(801.9,1117.4) scale(1,1.04)" class="ax" text-anchor="middle">25</text>
<line x1="928.3" y1="1078.0" x2="928.3" y2="1087.5" stroke="#B3B3B3" stroke-width="1.7"/>
<text transform="translate(928.3,1117.4) scale(1,1.04)" class="ax" text-anchor="middle">50</text>
<line x1="1054.7" y1="1078.0" x2="1054.7" y2="1087.5" stroke="#B3B3B3" stroke-width="1.7"/>
<text transform="translate(1054.7,1117.4) scale(1,1.04)" class="ax" text-anchor="middle">75</text>
<line x1="1205.2" y1="861.0" x2="1205.2" y2="1078.0" stroke="#DEDEDE" stroke-width="1.9"/>
<line x1="1268.4" y1="861.0" x2="1268.4" y2="1078.0" stroke="#DEDEDE" stroke-width="1.35"/>
<line x1="1331.6" y1="861.0" x2="1331.6" y2="1078.0" stroke="#DEDEDE" stroke-width="1.9"/>
<line x1="1394.8" y1="861.0" x2="1394.8" y2="1078.0" stroke="#DEDEDE" stroke-width="1.35"/>
<line x1="1458" y1="861.0" x2="1458" y2="1078.0" stroke="#DEDEDE" stroke-width="1.9"/>
<line x1="1521.2" y1="861.0" x2="1521.2" y2="1078.0" stroke="#DEDEDE" stroke-width="1.35"/>
<line x1="1584.4" y1="861.0" x2="1584.4" y2="1078.0" stroke="#DEDEDE" stroke-width="1.9"/>
<line x1="1647.6" y1="861.0" x2="1647.6" y2="1078.0" stroke="#DEDEDE" stroke-width="1.35"/>
<line x1="1197.9" y1="1068.6" x2="1708" y2="1068.6" stroke="#DEDEDE" stroke-width="1.9"/>
<line x1="1197.9" y1="1046.1" x2="1708" y2="1046.1" stroke="#DEDEDE" stroke-width="1.35"/>
<line x1="1197.9" y1="1023.6" x2="1708" y2="1023.6" stroke="#DEDEDE" stroke-width="1.9"/>
<line x1="1197.9" y1="1001.2" x2="1708" y2="1001.2" stroke="#DEDEDE" stroke-width="1.35"/>
<line x1="1197.9" y1="978.7" x2="1708" y2="978.7" stroke="#DEDEDE" stroke-width="1.9"/>
<line x1="1197.9" y1="956.2" x2="1708" y2="956.2" stroke="#DEDEDE" stroke-width="1.35"/>
<line x1="1197.9" y1="933.7" x2="1708" y2="933.7" stroke="#DEDEDE" stroke-width="1.9"/>
<line x1="1197.9" y1="911.3" x2="1708" y2="911.3" stroke="#DEDEDE" stroke-width="1.35"/>
<line x1="1197.9" y1="888.8" x2="1708" y2="888.8" stroke="#DEDEDE" stroke-width="1.9"/>
<line x1="1197.9" y1="866.3" x2="1708" y2="866.3" stroke="#DEDEDE" stroke-width="1.35"/>
<path d="M1219.5,951.3 L1220.7,947 L1221.8,942.7 L1223,938.3 L1224.2,933.9 L1225.3,929.6 L1226.5,925.2 L1227.7,920.9 L1228.8,916.7 L1230,912.6 L1231.2,908.6 L1232.3,904.8 L1233.5,901.1 L1234.7,897.6 L1235.8,894.4 L1237,891.4 L1238.2,888.6 L1239.3,886.1 L1240.5,883.9 L1241.7,881.9 L1242.8,880.3 L1244,879 L1245.2,878 L1246.3,877.4 L1247.5,877 L1248.7,877 L1249.8,877.4 L1251,878 L1252.2,879 L1253.3,880.3 L1254.5,881.8 L1255.7,883.7 L1256.8,885.8 L1258,888.2 L1259.2,890.8 L1260.3,893.6 L1261.5,896.6 L1262.7,899.7 L1263.8,903.1 L1265,906.5 L1266.2,910.1 L1267.3,913.7 L1268.5,917.4 L1269.7,921.1 L1270.8,924.9 L1272,928.6 L1273.2,932.3 L1274.3,936 L1275.5,939.6 L1276.7,943.1 L1277.8,946.5 L1279,949.8 L1280.2,953 L1281.3,956.1 L1282.5,959 L1283.7,961.8 L1284.8,964.4 L1286,966.8 L1287.2,969.1 L1288.3,971.2 L1289.5,973.1 L1290.7,974.9 L1291.8,976.5 L1293,977.9 L1294.2,979.1 L1295.3,980.3 L1296.5,981.2 L1297.7,982 L1298.8,982.7 L1300,983.3 L1301.1,983.7 L1302.3,984.1 L1303.5,984.3 L1304.6,984.5 L1305.8,984.6 L1307,984.6 L1308.1,984.5 L1309.3,984.4 L1310.5,984.3 L1311.6,984.1 L1312.8,983.9 L1314,983.7 L1315.1,983.4 L1316.3,983.2 L1317.5,983 L1318.6,982.8 L1319.8,982.6 L1321,982.4 L1322.1,982.2 L1323.3,982.1 L1324.5,981.9 L1325.6,981.9 L1326.8,981.8 L1328,981.8 L1329.1,981.8 L1330.3,981.8 L1331.5,981.9 L1332.6,982 L1333.8,982.1 L1335,982.2 L1336.1,982.4 L1337.3,982.6 L1338.5,982.8 L1339.6,983.1 L1340.8,983.3 L1342,983.6 L1343.1,983.8 L1344.3,984.1 L1345.5,984.4 L1346.6,984.7 L1347.8,985 L1349,985.3 L1350.1,985.6 L1351.3,985.9 L1352.5,986.2 L1353.6,986.5 L1354.8,986.9 L1356,987.2 L1357.1,987.5 L1358.3,987.8 L1359.5,988.1 L1360.6,988.5 L1361.8,988.8 L1363,989.2 L1364.1,989.5 L1365.3,989.9 L1366.5,990.3 L1367.6,990.7 L1368.8,991.1 L1370,991.6 L1371.1,992 L1372.3,992.5 L1373.5,993.1 L1374.6,993.6 L1375.8,994.2 L1377,994.9 L1378.1,995.5 L1379.3,996.2 L1380.5,997 L1381.6,997.8 L1382.8,998.6 L1384,999.5 L1385.1,1000.4 L1386.3,1001.4 L1387.5,1002.4 L1388.6,1003.5 L1389.8,1004.5 L1391,1005.7 L1392.1,1006.8 L1393.3,1008 L1394.5,1009.3 L1395.6,1010.5 L1396.8,1011.8 L1398,1013.1 L1399.1,1014.5 L1400.3,1015.8 L1401.5,1017.2 L1402.6,1018.6 L1403.8,1020 L1405,1021.4 L1406.1,1022.8 L1407.3,1024.2 L1408.4,1025.6 L1409.6,1026.9 L1410.8,1028.3 L1411.9,1029.7 L1413.1,1031 L1414.3,1032.3 L1415.4,1033.6 L1416.6,1034.9 L1417.8,1036.2 L1418.9,1037.4 L1420.1,1038.6 L1421.3,1039.8 L1422.4,1040.9 L1423.6,1042 L1424.8,1043.1 L1425.9,1044.2 L1427.1,1045.2 L1428.3,1046.2 L1429.4,1047.1 L1430.6,1048.1 L1431.8,1049 L1432.9,1049.9 L1434.1,1050.7 L1435.3,1051.5 L1436.4,1052.3 L1437.6,1053.1 L1438.8,1053.8 L1439.9,1054.5 L1441.1,1055.2 L1442.3,1055.9 L1443.4,1056.5 L1444.6,1057.1 L1445.8,1057.7 L1446.9,1058.3 L1448.1,1058.8 L1449.3,1059.4 L1450.4,1059.9 L1451.6,1060.4 L1452.8,1060.8 L1453.9,1061.3 L1455.1,1061.7 L1456.3,1062.1 L1457.4,1062.5 L1458.6,1062.9 L1459.8,1063.2 L1460.9,1063.6 L1462.1,1063.9 L1463.3,1064.2 L1464.4,1064.4 L1465.6,1064.7 L1466.8,1064.9 L1467.9,1065.2 L1469.1,1065.4 L1470.3,1065.5 L1471.4,1065.7 L1472.6,1065.9 L1473.8,1066 L1474.9,1066.1 L1476.1,1066.2 L1477.3,1066.3 L1478.4,1066.4 L1479.6,1066.5 L1480.8,1066.5 L1481.9,1066.6 L1483.1,1066.6 L1484.3,1066.6 L1485.4,1066.6 L1486.6,1066.6 L1487.8,1066.6 L1488.9,1066.6 L1490.1,1066.5 L1491.3,1066.5 L1492.4,1066.4 L1493.6,1066.4 L1494.8,1066.3 L1495.9,1066.2 L1497.1,1066.2 L1498.3,1066.1 L1499.4,1066 L1500.6,1065.9 L1501.8,1065.8 L1502.9,1065.7 L1504.1,1065.7 L1505.3,1065.6 L1506.4,1065.5 L1507.6,1065.4 L1508.8,1065.3 L1509.9,1065.3 L1511.1,1065.2 L1512.3,1065.1 L1513.4,1065.1 L1514.6,1065 L1515.7,1064.9 L1516.9,1064.9 L1518.1,1064.9 L1519.2,1064.8 L1520.4,1064.8 L1521.6,1064.8 L1522.7,1064.8 L1523.9,1064.8 L1525.1,1064.8 L1526.2,1064.8 L1527.4,1064.8 L1528.6,1064.9 L1529.7,1064.9 L1530.9,1064.9 L1532.1,1065 L1533.2,1065.1 L1534.4,1065.1 L1535.6,1065.2 L1536.7,1065.3 L1537.9,1065.4 L1539.1,1065.4 L1540.2,1065.5 L1541.4,1065.6 L1542.6,1065.7 L1543.7,1065.8 L1544.9,1065.9 L1546.1,1066 L1547.2,1066.1 L1548.4,1066.3 L1549.6,1066.4 L1550.7,1066.5 L1551.9,1066.6 L1553.1,1066.7 L1554.2,1066.8 L1555.4,1066.9 L1556.6,1067 L1557.7,1067.1 L1558.9,1067.2 L1560.1,1067.3 L1561.2,1067.3 L1562.4,1067.4 L1563.6,1067.5 L1564.7,1067.6 L1565.9,1067.7 L1567.1,1067.7 L1568.2,1067.8 L1569.4,1067.9 L1570.6,1067.9 L1571.7,1068 L1572.9,1068 L1574.1,1068.1 L1575.2,1068.1 L1576.4,1068.2 L1577.6,1068.2 L1578.7,1068.2 L1579.9,1068.3 L1581.1,1068.3 L1582.2,1068.3 L1583.4,1068.4 L1584.6,1068.4 L1585.7,1068.4 L1586.9,1068.4 L1588.1,1068.5 L1589.2,1068.5 L1590.4,1068.5 L1591.6,1068.5 L1592.7,1068.5 L1593.9,1068.5 L1595.1,1068.5 L1596.2,1068.5 L1597.4,1068.5 L1598.6,1068.6 L1599.7,1068.6 L1600.9,1068.6 L1602.1,1068.6 L1603.2,1068.6 L1604.4,1068.6 L1605.6,1068.6 L1606.7,1068.6 L1607.9,1068.6 L1609.1,1068.6 L1610.2,1068.6 L1611.4,1068.6 L1612.6,1068.6 L1613.7,1068.6 L1614.9,1068.6 L1616.1,1068.6 L1617.2,1068.6 L1618.4,1068.6 L1619.5,1068.6 L1620.7,1068.6 L1621.9,1068.6 L1623,1068.6 L1624.2,1068.6 L1625.4,1068.6 L1626.5,1068.6 L1627.7,1068.6 L1628.9,1068.6 L1630,1068.6 L1631.2,1068.6 L1632.4,1068.6 L1633.5,1068.6 L1634.7,1068.6 L1635.9,1068.6 L1637,1068.6 L1638.2,1068.6 L1639.4,1068.6 L1640.5,1068.6 L1641.7,1068.6 L1642.9,1068.6 L1644,1068.6 L1645.2,1068.6 L1646.4,1068.6 L1647.5,1068.6 L1648.7,1068.6 L1649.9,1068.6 L1651,1068.6 L1652.2,1068.6 L1653.4,1068.6 L1654.5,1068.6 L1655.7,1068.6 L1656.9,1068.6 L1658,1068.6 L1659.2,1068.6 L1660.4,1068.6 L1661.5,1068.6 L1662.7,1068.6 L1663.9,1068.6 L1665,1068.6 L1666.2,1068.6 L1667.4,1068.6 L1668.5,1068.6 L1669.7,1068.6 L1670.9,1068.6 L1672,1068.6 L1673.2,1068.6 L1674.4,1068.6 L1675.5,1068.6 L1676.7,1068.6 L1677.9,1068.6 L1679,1068.6 L1680.2,1068.6 L1681.4,1068.6 L1682.5,1068.6 L1683.7,1068.6 L1684.9,1068.6 L1684.9,1068.6 L1219.5,1068.6 Z" fill="#4DBBD5"/>
<path d="M1219.5,951.3 L1220.7,947 L1221.8,942.7 L1223,938.3 L1224.2,933.9 L1225.3,929.6 L1226.5,925.2 L1227.7,920.9 L1228.8,916.7 L1230,912.6 L1231.2,908.6 L1232.3,904.8 L1233.5,901.1 L1234.7,897.6 L1235.8,894.4 L1237,891.4 L1238.2,888.6 L1239.3,886.1 L1240.5,883.9 L1241.7,881.9 L1242.8,880.3 L1244,879 L1245.2,878 L1246.3,877.4 L1247.5,877 L1248.7,877 L1249.8,877.4 L1251,878 L1252.2,879 L1253.3,880.3 L1254.5,881.8 L1255.7,883.7 L1256.8,885.8 L1258,888.2 L1259.2,890.8 L1260.3,893.6 L1261.5,896.6 L1262.7,899.7 L1263.8,903.1 L1265,906.5 L1266.2,910.1 L1267.3,913.7 L1268.5,917.4 L1269.7,921.1 L1270.8,924.9 L1272,928.6 L1273.2,932.3 L1274.3,936 L1275.5,939.6 L1276.7,943.1 L1277.8,946.5 L1279,949.8 L1280.2,953 L1281.3,956.1 L1282.5,959 L1283.7,961.8 L1284.8,964.4 L1286,966.8 L1287.2,969.1 L1288.3,971.2 L1289.5,973.1 L1290.7,974.9 L1291.8,976.5 L1293,977.9 L1294.2,979.1 L1295.3,980.3 L1296.5,981.2 L1297.7,982 L1298.8,982.7 L1300,983.3 L1301.1,983.7 L1302.3,984.1 L1303.5,984.3 L1304.6,984.5 L1305.8,984.6 L1307,984.6 L1308.1,984.5 L1309.3,984.4 L1310.5,984.3 L1311.6,984.1 L1312.8,983.9 L1314,983.7 L1315.1,983.4 L1316.3,983.2 L1317.5,983 L1318.6,982.8 L1319.8,982.6 L1321,982.4 L1322.1,982.2 L1323.3,982.1 L1324.5,981.9 L1325.6,981.9 L1326.8,981.8 L1328,981.8 L1329.1,981.8 L1330.3,981.8 L1331.5,981.9 L1332.6,982 L1333.8,982.1 L1335,982.2 L1336.1,982.4 L1337.3,982.6 L1338.5,982.8 L1339.6,983.1 L1340.8,983.3 L1342,983.6 L1343.1,983.8 L1344.3,984.1 L1345.5,984.4 L1346.6,984.7 L1347.8,985 L1349,985.3 L1350.1,985.6 L1351.3,985.9 L1352.5,986.2 L1353.6,986.5 L1354.8,986.9 L1356,987.2 L1357.1,987.5 L1358.3,987.8 L1359.5,988.1 L1360.6,988.5 L1361.8,988.8 L1363,989.2 L1364.1,989.5 L1365.3,989.9 L1366.5,990.3 L1367.6,990.7 L1368.8,991.1 L1370,991.6 L1371.1,992 L1372.3,992.5 L1373.5,993.1 L1374.6,993.6 L1375.8,994.2 L1377,994.9 L1378.1,995.5 L1379.3,996.2 L1380.5,997 L1381.6,997.8 L1382.8,998.6 L1384,999.5 L1385.1,1000.4 L1386.3,1001.4 L1387.5,1002.4 L1388.6,1003.5 L1389.8,1004.5 L1391,1005.7 L1392.1,1006.8 L1393.3,1008 L1394.5,1009.3 L1395.6,1010.5 L1396.8,1011.8 L1398,1013.1 L1399.1,1014.5 L1400.3,1015.8 L1401.5,1017.2 L1402.6,1018.6 L1403.8,1020 L1405,1021.4 L1406.1,1022.8 L1407.3,1024.2 L1408.4,1025.6 L1409.6,1026.9 L1410.8,1028.3 L1411.9,1029.7 L1413.1,1031 L1414.3,1032.3 L1415.4,1033.6 L1416.6,1034.9 L1417.8,1036.2 L1418.9,1037.4 L1420.1,1038.6 L1421.3,1039.8 L1422.4,1040.9 L1423.6,1042 L1424.8,1043.1 L1425.9,1044.2 L1427.1,1045.2 L1428.3,1046.2 L1429.4,1047.1 L1430.6,1048.1 L1431.8,1049 L1432.9,1049.9 L1434.1,1050.7 L1435.3,1051.5 L1436.4,1052.3 L1437.6,1053.1 L1438.8,1053.8 L1439.9,1054.5 L1441.1,1055.2 L1442.3,1055.9 L1443.4,1056.5 L1444.6,1057.1 L1445.8,1057.7 L1446.9,1058.3 L1448.1,1058.8 L1449.3,1059.4 L1450.4,1059.9 L1451.6,1060.4 L1452.8,1060.8 L1453.9,1061.3 L1455.1,1061.7 L1456.3,1062.1 L1457.4,1062.5 L1458.6,1062.9 L1459.8,1063.2 L1460.9,1063.6 L1462.1,1063.9 L1463.3,1064.2 L1464.4,1064.4 L1465.6,1064.7 L1466.8,1064.9 L1467.9,1065.2 L1469.1,1065.4 L1470.3,1065.5 L1471.4,1065.7 L1472.6,1065.9 L1473.8,1066 L1474.9,1066.1 L1476.1,1066.2 L1477.3,1066.3 L1478.4,1066.4 L1479.6,1066.5 L1480.8,1066.5 L1481.9,1066.6 L1483.1,1066.6 L1484.3,1066.6 L1485.4,1066.6 L1486.6,1066.6 L1487.8,1066.6 L1488.9,1066.6 L1490.1,1066.5 L1491.3,1066.5 L1492.4,1066.4 L1493.6,1066.4 L1494.8,1066.3 L1495.9,1066.2 L1497.1,1066.2 L1498.3,1066.1 L1499.4,1066 L1500.6,1065.9 L1501.8,1065.8 L1502.9,1065.7 L1504.1,1065.7 L1505.3,1065.6 L1506.4,1065.5 L1507.6,1065.4 L1508.8,1065.3 L1509.9,1065.3 L1511.1,1065.2 L1512.3,1065.1 L1513.4,1065.1 L1514.6,1065 L1515.7,1064.9 L1516.9,1064.9 L1518.1,1064.9 L1519.2,1064.8 L1520.4,1064.8 L1521.6,1064.8 L1522.7,1064.8 L1523.9,1064.8 L1525.1,1064.8 L1526.2,1064.8 L1527.4,1064.8 L1528.6,1064.9 L1529.7,1064.9 L1530.9,1064.9 L1532.1,1065 L1533.2,1065.1 L1534.4,1065.1 L1535.6,1065.2 L1536.7,1065.3 L1537.9,1065.4 L1539.1,1065.4 L1540.2,1065.5 L1541.4,1065.6 L1542.6,1065.7 L1543.7,1065.8 L1544.9,1065.9 L1546.1,1066 L1547.2,1066.1 L1548.4,1066.3 L1549.6,1066.4 L1550.7,1066.5 L1551.9,1066.6 L1553.1,1066.7 L1554.2,1066.8 L1555.4,1066.9 L1556.6,1067 L1557.7,1067.1 L1558.9,1067.2 L1560.1,1067.3 L1561.2,1067.3 L1562.4,1067.4 L1563.6,1067.5 L1564.7,1067.6 L1565.9,1067.7 L1567.1,1067.7 L1568.2,1067.8 L1569.4,1067.9 L1570.6,1067.9 L1571.7,1068 L1572.9,1068 L1574.1,1068.1 L1575.2,1068.1 L1576.4,1068.2 L1577.6,1068.2 L1578.7,1068.2 L1579.9,1068.3 L1581.1,1068.3 L1582.2,1068.3 L1583.4,1068.4 L1584.6,1068.4 L1585.7,1068.4 L1586.9,1068.4 L1588.1,1068.5 L1589.2,1068.5 L1590.4,1068.5 L1591.6,1068.5 L1592.7,1068.5 L1593.9,1068.5 L1595.1,1068.5 L1596.2,1068.5 L1597.4,1068.5 L1598.6,1068.6 L1599.7,1068.6 L1600.9,1068.6 L1602.1,1068.6 L1603.2,1068.6 L1604.4,1068.6 L1605.6,1068.6 L1606.7,1068.6 L1607.9,1068.6 L1609.1,1068.6 L1610.2,1068.6 L1611.4,1068.6 L1612.6,1068.6 L1613.7,1068.6 L1614.9,1068.6 L1616.1,1068.6 L1617.2,1068.6 L1618.4,1068.6 L1619.5,1068.6 L1620.7,1068.6 L1621.9,1068.6 L1623,1068.6 L1624.2,1068.6 L1625.4,1068.6 L1626.5,1068.6 L1627.7,1068.6 L1628.9,1068.6 L1630,1068.6 L1631.2,1068.6 L1632.4,1068.6 L1633.5,1068.6 L1634.7,1068.6 L1635.9,1068.6 L1637,1068.6 L1638.2,1068.6 L1639.4,1068.6 L1640.5,1068.6 L1641.7,1068.6 L1642.9,1068.6 L1644,1068.6 L1645.2,1068.6 L1646.4,1068.6 L1647.5,1068.6 L1648.7,1068.6 L1649.9,1068.6 L1651,1068.6 L1652.2,1068.6 L1653.4,1068.6 L1654.5,1068.6 L1655.7,1068.6 L1656.9,1068.6 L1658,1068.6 L1659.2,1068.6 L1660.4,1068.6 L1661.5,1068.6 L1662.7,1068.6 L1663.9,1068.6 L1665,1068.6 L1666.2,1068.6 L1667.4,1068.6 L1668.5,1068.6 L1669.7,1068.6 L1670.9,1068.6 L1672,1068.6 L1673.2,1068.6 L1674.4,1068.6 L1675.5,1068.6 L1676.7,1068.6 L1677.9,1068.6 L1679,1068.6 L1680.2,1068.6 L1681.4,1068.6 L1682.5,1068.6 L1683.7,1068.6 L1684.9,1068.6" fill="none" stroke="#4DBBD5" stroke-width="4"/>
<rect x="1198.2" y="860.9" width="509.7" height="217.1" fill="none" stroke="#B3B3B3" stroke-width="1.9"/>
<line x1="1205.2" y1="1078.0" x2="1205.2" y2="1087.5" stroke="#B3B3B3" stroke-width="1.7"/>
<text transform="translate(1205.2,1117.4) scale(1,1.04)" class="ax" text-anchor="middle">0</text>
<line x1="1331.6" y1="1078.0" x2="1331.6" y2="1087.5" stroke="#B3B3B3" stroke-width="1.7"/>
<text transform="translate(1331.6,1117.4) scale(1,1.04)" class="ax" text-anchor="middle">25</text>
<line x1="1458" y1="1078.0" x2="1458" y2="1087.5" stroke="#B3B3B3" stroke-width="1.7"/>
<text transform="translate(1458,1117.4) scale(1,1.04)" class="ax" text-anchor="middle">50</text>
<line x1="1584.4" y1="1078.0" x2="1584.4" y2="1087.5" stroke="#B3B3B3" stroke-width="1.7"/>
<text transform="translate(1584.4,1117.4) scale(1,1.04)" class="ax" text-anchor="middle">75</text>
<line x1="128.5" y1="1068.6" x2="137.7" y2="1068.6" stroke="#B3B3B3" stroke-width="1.7"/>
<text transform="translate(120.4,1079.5) scale(1,1.04)" class="ax" text-anchor="end">0.00</text>
<line x1="128.5" y1="1023.6" x2="137.7" y2="1023.6" stroke="#B3B3B3" stroke-width="1.7"/>
<text transform="translate(120.4,1034.5) scale(1,1.04)" class="ax" text-anchor="end">0.01</text>
<line x1="128.5" y1="978.7" x2="137.7" y2="978.7" stroke="#B3B3B3" stroke-width="1.7"/>
<text transform="translate(120.4,989.6) scale(1,1.04)" class="ax" text-anchor="end">0.02</text>
<line x1="128.5" y1="933.7" x2="137.7" y2="933.7" stroke="#B3B3B3" stroke-width="1.7"/>
<text transform="translate(120.4,944.6) scale(1,1.04)" class="ax" text-anchor="end">0.03</text>
<line x1="128.5" y1="888.8" x2="137.7" y2="888.8" stroke="#B3B3B3" stroke-width="1.7"/>
<text transform="translate(120.4,899.7) scale(1,1.04)" class="ax" text-anchor="end">0.04</text>
<text x="922.8" y="1159.8" class="ti" text-anchor="middle">tree cover (%)</text>
<text transform="translate(44.4,969.5) rotate(-90)" class="ti" text-anchor="middle">density</text>
<text x="15.5" y="895.5" class="lb">c</text>
</svg></body></html>
